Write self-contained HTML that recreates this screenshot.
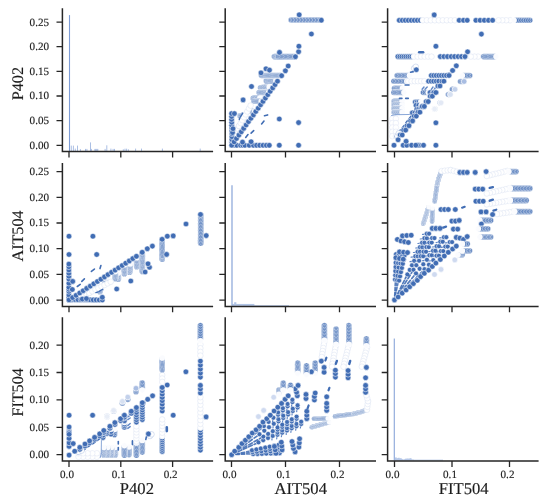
<!DOCTYPE html>
<html lang="en"><head><meta charset="utf-8"><title>pairplot</title>
<style>
html,body{margin:0;padding:0;background:#fff;}
body{width:550px;height:502px;overflow:hidden;}
svg{display:block;font-family:"Liberation Serif",serif;text-rendering:geometricPrecision;}
.t{font-size:11.1px;fill:#1c1c1c;stroke:#1c1c1c;stroke-width:0.15px;}
.l{font-size:16.6px;fill:#1c1c1c;stroke:#1c1c1c;stroke-width:0.15px;}
.s{stroke:#262626;stroke-width:1.5;fill:none;stroke-linecap:butt;stroke-linejoin:miter;}
.k{stroke:#262626;stroke-width:1.3;fill:none;}
.d line{stroke-linecap:round;}
.h{stroke:#7f9fd4;fill:none;}
</style></head><body>
<svg width="550" height="502" viewBox="0 0 550 502" style="filter:blur(0.3px)">
<rect width="550" height="502" fill="#fff"/>
<g class="h"><line x1="69.5" y1="151.1" x2="69.5" y2="15.1" stroke-width="1.1" stroke="#7d9cd5"/><line x1="71.3" y1="151.1" x2="71.3" y2="145.6" stroke-width="0.7" stroke="#86a3d8"/><line x1="73.4" y1="151.1" x2="73.4" y2="145.6" stroke-width="0.7" stroke="#86a3d8"/><line x1="75.3" y1="151.1" x2="75.3" y2="148.6" stroke-width="0.7" stroke="#86a3d8"/><line x1="77.5" y1="151.1" x2="77.5" y2="145.6" stroke-width="0.7" stroke="#86a3d8"/><line x1="80.4" y1="151.1" x2="80.4" y2="149.1" stroke-width="0.7" stroke="#86a3d8"/><line x1="85.5" y1="151.1" x2="85.5" y2="148.9" stroke-width="0.7" stroke="#86a3d8"/><line x1="86.9" y1="151.1" x2="86.9" y2="148.9" stroke-width="0.7" stroke="#86a3d8"/><line x1="90.5" y1="151.1" x2="90.5" y2="142.4" stroke-width="0.7" stroke="#86a3d8"/><line x1="91.4" y1="151.1" x2="91.4" y2="148.9" stroke-width="0.7" stroke="#86a3d8"/><line x1="94.9" y1="151.1" x2="94.9" y2="148.9" stroke-width="0.7" stroke="#86a3d8"/><line x1="95.8" y1="151.1" x2="95.8" y2="148.9" stroke-width="0.7" stroke="#86a3d8"/><line x1="96.8" y1="151.1" x2="96.8" y2="148.9" stroke-width="0.7" stroke="#86a3d8"/><line x1="97.8" y1="151.1" x2="97.8" y2="148.9" stroke-width="0.7" stroke="#86a3d8"/><line x1="105.1" y1="151.1" x2="105.1" y2="148.9" stroke-width="0.7" stroke="#86a3d8"/><line x1="106.8" y1="151.1" x2="106.8" y2="145.3" stroke-width="0.7" stroke="#86a3d8"/><line x1="110.9" y1="151.1" x2="110.9" y2="148.6" stroke-width="0.7" stroke="#86a3d8"/><line x1="113.1" y1="151.1" x2="113.1" y2="148.9" stroke-width="0.7" stroke="#86a3d8"/><line x1="114.5" y1="151.1" x2="114.5" y2="148.9" stroke-width="0.7" stroke="#86a3d8"/><line x1="123.3" y1="151.1" x2="123.3" y2="149.3" stroke-width="0.7" stroke="#86a3d8"/><line x1="125" y1="151.1" x2="125" y2="148.7" stroke-width="0.7" stroke="#86a3d8"/><line x1="126.6" y1="151.1" x2="126.6" y2="148.7" stroke-width="0.7" stroke="#86a3d8"/><line x1="128.4" y1="151.1" x2="128.4" y2="149.3" stroke-width="0.7" stroke="#86a3d8"/><line x1="135.6" y1="151.1" x2="135.6" y2="148.6" stroke-width="0.7" stroke="#86a3d8"/><line x1="141.5" y1="151.1" x2="141.5" y2="148.6" stroke-width="0.7" stroke="#86a3d8"/><line x1="162.4" y1="151.1" x2="162.4" y2="148.6" stroke-width="0.7" stroke="#86a3d8"/><line x1="200.2" y1="151.1" x2="200.2" y2="148.6" stroke-width="0.7" stroke="#86a3d8"/></g>
<g class="d" fill="#416db4" stroke="#fff" stroke-width="0.55"><circle cx="266.4" cy="80.9" r="2.8"/><circle cx="267.3" cy="80.9" r="2.8"/><circle cx="268.1" cy="80.9" r="2.8"/><circle cx="269" cy="80.9" r="2.8"/><circle cx="269.9" cy="80.9" r="2.8"/><circle cx="270.7" cy="80.9" r="2.8"/><circle cx="271.6" cy="80.9" r="2.8"/><circle cx="272.4" cy="80.9" r="2.8"/><circle cx="273.3" cy="80.9" r="2.8"/><circle cx="274.2" cy="80.9" r="2.8"/><circle cx="275" cy="80.9" r="2.8"/><circle cx="275.9" cy="80.9" r="2.8" fill="#fafbfe"/><circle cx="260.6" cy="87.7" r="2.8"/><circle cx="261.3" cy="87.7" r="2.8"/><circle cx="262.1" cy="87.6" r="2.8"/><circle cx="262.8" cy="87.6" r="2.8"/><circle cx="263.5" cy="87.5" r="2.8"/><circle cx="264.2" cy="87.5" r="2.8"/><circle cx="265" cy="87.4" r="2.8"/><circle cx="265.7" cy="87.4" r="2.8"/><circle cx="266.4" cy="87.3" r="2.8"/><circle cx="267.1" cy="87.3" r="2.8"/><circle cx="267.9" cy="87.2" r="2.8"/><circle cx="268.6" cy="87.2" r="2.8"/><circle cx="269.3" cy="87.1" r="2.8" fill="#fafbfe"/><circle cx="259.2" cy="92.5" r="2.8"/><circle cx="260" cy="92.5" r="2.8"/><circle cx="260.9" cy="92.5" r="2.8"/><circle cx="261.7" cy="92.5" r="2.8"/><circle cx="262.6" cy="92.5" r="2.8"/><circle cx="263.5" cy="92.5" r="2.8"/><circle cx="264.3" cy="92.5" r="2.8"/><circle cx="265.2" cy="92.5" r="2.8"/><circle cx="266" cy="92.5" r="2.8"/><circle cx="266.9" cy="92.5" r="2.8"/><circle cx="267.7" cy="92.5" r="2.8"/><circle cx="268.6" cy="92.5" r="2.8" fill="#fafbfe"/><circle cx="253.3" cy="98.4" r="2.8"/><circle cx="254.1" cy="98.4" r="2.8"/><circle cx="254.8" cy="98.4" r="2.8"/><circle cx="255.5" cy="98.4" r="2.8"/><circle cx="256.2" cy="98.4" r="2.8"/><circle cx="257" cy="98.4" r="2.8"/><circle cx="257.7" cy="98.4" r="2.8"/><circle cx="258.4" cy="98.4" r="2.8"/><circle cx="259.2" cy="98.4" r="2.8"/><circle cx="259.9" cy="98.4" r="2.8" fill="#fafbfe"/><circle cx="254.1" cy="101.3" r="2.8"/><circle cx="255" cy="101.3" r="2.8"/><circle cx="255.9" cy="101.3" r="2.8"/><circle cx="256.8" cy="101.3" r="2.8"/><circle cx="257.7" cy="101.3" r="2.8"/><circle cx="258.6" cy="101.3" r="2.8"/><circle cx="259.5" cy="101.3" r="2.8"/><circle cx="260.4" cy="101.3" r="2.8"/><circle cx="261.3" cy="101.3" r="2.8" fill="#fafbfe"/><circle cx="249.7" cy="110.7" r="2.8"/><circle cx="250.5" cy="110.7" r="2.8"/><circle cx="251.4" cy="110.7" r="2.8"/><circle cx="252.2" cy="110.7" r="2.8"/><circle cx="253.1" cy="110.7" r="2.8"/><circle cx="253.9" cy="110.7" r="2.8"/><circle cx="254.8" cy="110.7" r="2.8" fill="#fafbfe"/><circle cx="240.2" cy="115.9" r="2.8"/><circle cx="241" cy="115.7" r="2.8"/><circle cx="241.8" cy="115.5" r="2.8"/><circle cx="242.7" cy="115.3" r="2.8"/><circle cx="243.5" cy="115.1" r="2.8"/><circle cx="244.3" cy="114.9" r="2.8"/><circle cx="245.2" cy="114.6" r="2.8"/><circle cx="246" cy="114.4" r="2.8" fill="#fafbfe"/><circle cx="231.7" cy="142" r="2.8" fill="#fff" stroke="#c9d5ec"/><circle cx="232.9" cy="139.3" r="2.8" fill="#fff" stroke="#c9d5ec"/><circle cx="234.2" cy="136.7" r="2.8" fill="#fff" stroke="#c9d5ec"/><circle cx="235.4" cy="134" r="2.8" fill="#fff" stroke="#c9d5ec"/><circle cx="236.6" cy="131.3" r="2.8" fill="#fff" stroke="#c9d5ec"/><circle cx="237.8" cy="128.7" r="2.8" fill="#fff" stroke="#c9d5ec"/><circle cx="239" cy="126" r="2.8" fill="#fff" stroke="#c9d5ec"/><circle cx="239" cy="126" r="2.8" fill="#fff" stroke="#dbe3f2"/><circle cx="240.7" cy="123.1" r="2.8" fill="#fff" stroke="#dbe3f2"/><circle cx="242.3" cy="120.2" r="2.8" fill="#fff" stroke="#dbe3f2"/><circle cx="244" cy="117.3" r="2.8" fill="#fff" stroke="#dbe3f2"/><circle cx="245.6" cy="114.4" r="2.8" fill="#fff" stroke="#dbe3f2"/><circle cx="247.3" cy="111.5" r="2.8" fill="#fff" stroke="#dbe3f2"/><circle cx="249" cy="108.5" r="2.8" fill="#fff" stroke="#dbe3f2"/><circle cx="250.6" cy="105.6" r="2.8" fill="#fff" stroke="#dbe3f2"/><line x1="245.7" y1="137.4" x2="248" y2="134.6" stroke="#416db4" stroke-width="1.6"/><line x1="251.1" y1="133.1" x2="253.7" y2="130.6" stroke="#416db4" stroke-width="1.6"/><line x1="261.6" y1="124" x2="264" y2="121.1" stroke="#416db4" stroke-width="1.6"/><line x1="264.5" y1="115.8" x2="267.6" y2="114.9" stroke="#416db4" stroke-width="1.6"/><line x1="239.2" y1="119.7" x2="240.1" y2="117.5" stroke="#416db4" stroke-width="1.3"/><line x1="240.6" y1="116.6" x2="242.8" y2="113.2" stroke="#416db4" stroke-width="1.3"/><circle cx="232" cy="145.3" r="2.8"/><circle cx="232" cy="142.5" r="2.8"/><circle cx="231.9" cy="139.6" r="2.8"/><circle cx="231.9" cy="136.7" r="2.8"/><circle cx="231.9" cy="133.8" r="2.8"/><circle cx="231.8" cy="130.9" r="2.8"/><circle cx="231.8" cy="128" r="2.8"/><circle cx="231.7" cy="125.2" r="2.8"/><circle cx="231.7" cy="122.3" r="2.8"/><circle cx="231.6" cy="119.4" r="2.8"/><circle cx="231.6" cy="116.5" r="2.8"/><circle cx="231.6" cy="113.6" r="2.8"/><circle cx="234.4" cy="113.6" r="2.8"/><circle cx="232.5" cy="132.6" r="2.8"/><circle cx="233" cy="128.7" r="2.8"/><circle cx="232" cy="145.3" r="2.8"/><circle cx="234.2" cy="145.3" r="2.8"/><circle cx="236.8" cy="145.3" r="2.8"/><circle cx="240.6" cy="145.3" r="2.8"/><circle cx="242.8" cy="145.3" r="2.8"/><circle cx="244.9" cy="145.3" r="2.8"/><circle cx="249.2" cy="145.3" r="2.8"/><circle cx="253.5" cy="145.3" r="2.8"/><circle cx="256.6" cy="145.3" r="2.8"/><circle cx="259.7" cy="145.3" r="2.8"/><circle cx="263.1" cy="145.3" r="2.8"/><circle cx="266.4" cy="145.3" r="2.8"/><circle cx="269.3" cy="145.3" r="2.8"/><circle cx="251.1" cy="141.7" r="2.8"/><circle cx="242.5" cy="142.1" r="2.8"/><circle cx="261.5" cy="75.5" r="2.8"/><circle cx="262.4" cy="75.5" r="2.8"/><circle cx="263.3" cy="75.5" r="2.8"/><circle cx="264.2" cy="75.5" r="2.8"/><circle cx="265.1" cy="75.5" r="2.8"/><circle cx="266" cy="75.5" r="2.8"/><circle cx="266.9" cy="75.5" r="2.8"/><circle cx="267.8" cy="75.5" r="2.8"/><circle cx="268.7" cy="75.5" r="2.8"/><circle cx="269.6" cy="75.5" r="2.8"/><circle cx="270.5" cy="75.5" r="2.8"/><circle cx="271.4" cy="75.5" r="2.8"/><circle cx="272.3" cy="75.5" r="2.8"/><circle cx="273.1" cy="75.5" r="2.8"/><circle cx="274" cy="75.5" r="2.8"/><circle cx="274.9" cy="75.5" r="2.8"/><circle cx="275.8" cy="75.5" r="2.8"/><circle cx="276.7" cy="75.5" r="2.8"/><circle cx="277.6" cy="75.5" r="2.8"/><circle cx="278.5" cy="75.5" r="2.8"/><circle cx="279.4" cy="75.5" r="2.8"/><circle cx="280.3" cy="75.5" r="2.8"/><circle cx="281.2" cy="75.5" r="2.8"/><circle cx="274.4" cy="56.6" r="2.8"/><circle cx="275.3" cy="56.6" r="2.8"/><circle cx="276.2" cy="56.6" r="2.8"/><circle cx="277" cy="56.6" r="2.8"/><circle cx="277.9" cy="56.6" r="2.8"/><circle cx="278.8" cy="56.6" r="2.8"/><circle cx="279.7" cy="56.6" r="2.8"/><circle cx="280.5" cy="56.6" r="2.8"/><circle cx="281.4" cy="56.6" r="2.8"/><circle cx="282.3" cy="56.6" r="2.8"/><circle cx="283.2" cy="56.6" r="2.8" fill="#fafbfe"/><circle cx="278.3" cy="56.6" r="2.8"/><circle cx="279.6" cy="56.6" r="2.8"/><circle cx="280.8" cy="56.6" r="2.8"/><circle cx="282.1" cy="56.6" r="2.8"/><circle cx="283.4" cy="56.6" r="2.8"/><circle cx="284.7" cy="56.6" r="2.8"/><circle cx="286" cy="56.6" r="2.8"/><circle cx="287.3" cy="56.6" r="2.8"/><circle cx="288.6" cy="56.6" r="2.8"/><circle cx="289.9" cy="56.6" r="2.8"/><circle cx="291.1" cy="56.6" r="2.8"/><circle cx="292.4" cy="56.6" r="2.8"/><circle cx="293.7" cy="56.6" r="2.8"/><circle cx="295" cy="56.6" r="2.8"/><circle cx="291.2" cy="20" r="2.8"/><circle cx="292.1" cy="20" r="2.8"/><circle cx="293.1" cy="20" r="2.8"/><circle cx="294.1" cy="20" r="2.8"/><circle cx="295" cy="20" r="2.8"/><circle cx="296" cy="20" r="2.8"/><circle cx="297" cy="20" r="2.8" fill="#fafbfe"/><circle cx="291.4" cy="20" r="2.8"/><circle cx="292.9" cy="20" r="2.8"/><circle cx="294.3" cy="20" r="2.8"/><circle cx="295.8" cy="20" r="2.8"/><circle cx="297.3" cy="20" r="2.8"/><circle cx="298.8" cy="20" r="2.8"/><circle cx="300.3" cy="20" r="2.8"/><circle cx="301.8" cy="20" r="2.8"/><circle cx="303.3" cy="20" r="2.8"/><circle cx="304.8" cy="20" r="2.8"/><circle cx="306.3" cy="20" r="2.8"/><circle cx="307.8" cy="20" r="2.8"/><circle cx="309.3" cy="20" r="2.8"/><circle cx="310.7" cy="20" r="2.8"/><circle cx="312.2" cy="20" r="2.8"/><circle cx="313.7" cy="20" r="2.8"/><circle cx="315.2" cy="20" r="2.8"/><circle cx="316.7" cy="20" r="2.8"/><circle cx="318.2" cy="20" r="2.8"/><circle cx="319.7" cy="20" r="2.8"/><circle cx="321.2" cy="20" r="2.8"/><circle cx="231.7" cy="145.2" r="2.8"/><circle cx="234.1" cy="141.9" r="2.8"/><circle cx="236.5" cy="138.5" r="2.8"/><circle cx="238.9" cy="135.1" r="2.8"/><circle cx="241.3" cy="131.8" r="2.8"/><circle cx="243.7" cy="128.4" r="2.8"/><circle cx="246.1" cy="125" r="2.8"/><circle cx="248.5" cy="121.6" r="2.8"/><circle cx="250.9" cy="118.3" r="2.8"/><circle cx="253.4" cy="114.9" r="2.8"/><circle cx="255.8" cy="111.5" r="2.8"/><circle cx="258.2" cy="108.2" r="2.8"/><circle cx="260.6" cy="104.8" r="2.8"/><circle cx="263" cy="101.4" r="2.8"/><circle cx="265.4" cy="98.1" r="2.8"/><circle cx="267.8" cy="94.7" r="2.8"/><circle cx="270.2" cy="91.3" r="2.8"/><circle cx="272.7" cy="87.9" r="2.8"/><circle cx="275.1" cy="84.6" r="2.8"/><circle cx="277.5" cy="81.2" r="2.8"/><circle cx="298.6" cy="145.2" r="2.8"/><circle cx="298.6" cy="122.6" r="2.8"/><circle cx="279.3" cy="145.2" r="2.8"/><circle cx="279.3" cy="119" r="2.8"/><circle cx="251.5" cy="86.5" r="2.8"/><circle cx="243.1" cy="99.9" r="2.8"/><circle cx="281.6" cy="75.7" r="2.8"/><circle cx="285.4" cy="70.8" r="2.8"/><circle cx="288.2" cy="66" r="2.8"/><circle cx="295.4" cy="56.7" r="2.8"/><circle cx="298.6" cy="51.7" r="2.8"/><circle cx="298.9" cy="46.2" r="2.8"/><circle cx="299.2" cy="14.8" r="2.8"/><circle cx="279.5" cy="52.4" r="2.8"/><circle cx="261" cy="72.9" r="2.8"/><circle cx="266" cy="68.8" r="2.8"/><circle cx="269.5" cy="70.1" r="2.8"/><circle cx="321.3" cy="20.2" r="2.8"/><circle cx="311.4" cy="34" r="2.8"/></g>
<g class="d" fill="#416db4" stroke="#fff" stroke-width="0.55"><circle cx="465" cy="75.8" r="2.8"/><circle cx="466" cy="75.8" r="2.8"/><circle cx="467" cy="75.8" r="2.8"/><circle cx="467.9" cy="75.8" r="2.8"/><circle cx="468.9" cy="75.8" r="2.8"/><circle cx="469.8" cy="75.8" r="2.8" fill="#fafbfe"/><circle cx="469.8" cy="75.8" r="2.8" fill="#9db4de"/><circle cx="460.5" cy="81.5" r="2.8"/><circle cx="461.7" cy="81.5" r="2.8"/><circle cx="462.9" cy="81.5" r="2.8"/><circle cx="464.1" cy="81.5" r="2.8" fill="#fafbfe"/><circle cx="464.1" cy="81.5" r="2.8" fill="#a9bde2"/><circle cx="452.4" cy="89.3" r="2.8"/><circle cx="453.7" cy="89.3" r="2.8"/><circle cx="455" cy="89.3" r="2.8" fill="#fafbfe"/><circle cx="455" cy="89.3" r="2.8" fill="#c3d1eb"/><circle cx="448.4" cy="94.5" r="2.8"/><circle cx="449.4" cy="94.5" r="2.8"/><circle cx="450.4" cy="94.5" r="2.8" fill="#fafbfe"/><circle cx="450.4" cy="94.5" r="2.8" fill="#d6e0f1"/><circle cx="440.4" cy="102.8" r="2.8"/><circle cx="441" cy="102.8" r="2.8" fill="#fafbfe"/><circle cx="441" cy="102.8" r="2.8" fill="#e3e9f5"/><circle cx="434.7" cy="109" r="2.8"/><circle cx="434.6" cy="109" r="2.8" fill="#fafbfe"/><circle cx="434.6" cy="109" r="2.8" fill="#e9eef7"/><circle cx="394.2" cy="101.3" r="2.8"/><circle cx="394.9" cy="101.3" r="2.8"/><circle cx="395.6" cy="101.3" r="2.8"/><circle cx="396.2" cy="101.3" r="2.8"/><circle cx="396.9" cy="101.3" r="2.8"/><circle cx="397.6" cy="101.3" r="2.8"/><circle cx="398.2" cy="101.3" r="2.8"/><circle cx="398.9" cy="101.3" r="2.8"/><circle cx="399.6" cy="101.3" r="2.8"/><circle cx="400.2" cy="101.3" r="2.8"/><circle cx="400.9" cy="101.3" r="2.8"/><circle cx="401.6" cy="101.3" r="2.8"/><circle cx="402.2" cy="101.3" r="2.8" fill="#fafbfe"/><circle cx="394.2" cy="104.9" r="2.8"/><circle cx="394.9" cy="104.9" r="2.8"/><circle cx="395.6" cy="104.9" r="2.8"/><circle cx="396.2" cy="104.9" r="2.8"/><circle cx="396.9" cy="104.9" r="2.8"/><circle cx="397.6" cy="104.9" r="2.8"/><circle cx="398.2" cy="104.9" r="2.8"/><circle cx="398.9" cy="104.9" r="2.8"/><circle cx="399.6" cy="104.9" r="2.8"/><circle cx="400.2" cy="104.9" r="2.8"/><circle cx="400.9" cy="104.9" r="2.8"/><circle cx="401.6" cy="104.9" r="2.8"/><circle cx="402.2" cy="104.9" r="2.8" fill="#fafbfe"/><circle cx="394.2" cy="108.5" r="2.8"/><circle cx="394.9" cy="108.5" r="2.8"/><circle cx="395.6" cy="108.5" r="2.8"/><circle cx="396.2" cy="108.5" r="2.8"/><circle cx="396.9" cy="108.5" r="2.8"/><circle cx="397.6" cy="108.5" r="2.8"/><circle cx="398.2" cy="108.5" r="2.8"/><circle cx="398.9" cy="108.5" r="2.8"/><circle cx="399.6" cy="108.5" r="2.8"/><circle cx="400.2" cy="108.5" r="2.8"/><circle cx="400.9" cy="108.5" r="2.8"/><circle cx="401.6" cy="108.5" r="2.8"/><circle cx="402.2" cy="108.5" r="2.8" fill="#fafbfe"/><circle cx="394.2" cy="112.2" r="2.8"/><circle cx="394.9" cy="112.2" r="2.8"/><circle cx="395.6" cy="112.2" r="2.8"/><circle cx="396.2" cy="112.2" r="2.8"/><circle cx="396.9" cy="112.2" r="2.8"/><circle cx="397.6" cy="112.2" r="2.8"/><circle cx="398.2" cy="112.2" r="2.8"/><circle cx="398.9" cy="112.2" r="2.8"/><circle cx="399.6" cy="112.2" r="2.8"/><circle cx="400.2" cy="112.2" r="2.8"/><circle cx="400.9" cy="112.2" r="2.8"/><circle cx="401.6" cy="112.2" r="2.8"/><circle cx="402.2" cy="112.2" r="2.8" fill="#fafbfe"/><circle cx="392.3" cy="118.7" r="2.8" fill="#fff" stroke="#dfe6f4"/><circle cx="395.9" cy="118.7" r="2.8" fill="#fff" stroke="#dfe6f4"/><circle cx="392.3" cy="123.1" r="2.8" fill="#fff" stroke="#dfe6f4"/><circle cx="395.9" cy="123.1" r="2.8" fill="#fff" stroke="#dfe6f4"/><circle cx="392.3" cy="127.5" r="2.8" fill="#fff" stroke="#dfe6f4"/><circle cx="395.9" cy="127.5" r="2.8" fill="#fff" stroke="#dfe6f4"/><circle cx="392.3" cy="131.8" r="2.8" fill="#fff" stroke="#dfe6f4"/><circle cx="395.9" cy="131.8" r="2.8" fill="#fff" stroke="#dfe6f4"/><circle cx="392.3" cy="136.2" r="2.8" fill="#fff" stroke="#dfe6f4"/><circle cx="395.9" cy="136.2" r="2.8" fill="#fff" stroke="#dfe6f4"/><circle cx="393.8" cy="81.2" r="2.8"/><circle cx="395.3" cy="81.2" r="2.8"/><circle cx="396.7" cy="81.2" r="2.8"/><circle cx="398.2" cy="81.2" r="2.8"/><circle cx="399.6" cy="81.2" r="2.8"/><circle cx="401.1" cy="81.2" r="2.8"/><circle cx="402.5" cy="81.2" r="2.8"/><circle cx="404" cy="81.2" r="2.8"/><circle cx="405.4" cy="81.2" r="2.8"/><circle cx="406.9" cy="81.2" r="2.8" fill="#fafbfe"/><circle cx="408.3" cy="81.2" r="2.8" fill="#fff" stroke="#dde4f2"/><circle cx="411.5" cy="81.2" r="2.8" fill="#fff" stroke="#dde4f2"/><circle cx="414.7" cy="81.2" r="2.8" fill="#fff" stroke="#dde4f2"/><circle cx="417.9" cy="81.2" r="2.8" fill="#fff" stroke="#dde4f2"/><circle cx="421.1" cy="81.2" r="2.8" fill="#fff" stroke="#dde4f2"/><circle cx="424.3" cy="81.2" r="2.8" fill="#fff" stroke="#dde4f2"/><circle cx="394.5" cy="88.2" r="2.8"/><circle cx="395.7" cy="88.2" r="2.8"/><circle cx="396.8" cy="88.2" r="2.8"/><circle cx="398" cy="88.2" r="2.8"/><circle cx="399.1" cy="88.2" r="2.8"/><circle cx="400.3" cy="88.2" r="2.8"/><circle cx="401.4" cy="88.2" r="2.8"/><circle cx="402.5" cy="88.2" r="2.8" fill="#fafbfe"/><circle cx="393.8" cy="92.5" r="2.8"/><circle cx="395.1" cy="92.5" r="2.8"/><circle cx="396.4" cy="92.5" r="2.8"/><circle cx="397.6" cy="92.5" r="2.8"/><circle cx="398.9" cy="92.5" r="2.8"/><circle cx="400.2" cy="92.5" r="2.8"/><circle cx="401.4" cy="92.5" r="2.8"/><circle cx="402.7" cy="92.5" r="2.8"/><circle cx="404" cy="92.5" r="2.8" fill="#fafbfe"/><circle cx="428.6" cy="81.2" r="2.8"/><circle cx="431.2" cy="81.2" r="2.8"/><circle cx="433.7" cy="81.2" r="2.8"/><circle cx="436.3" cy="81.2" r="2.8"/><circle cx="438.8" cy="81.2" r="2.8"/><circle cx="423.3" cy="92.5" r="2.8"/><circle cx="425" cy="92.5" r="2.8"/><circle cx="426.7" cy="92.5" r="2.8"/><circle cx="428.4" cy="92.5" r="2.8" fill="#fafbfe"/><circle cx="430.1" cy="92.5" r="2.8"/><circle cx="433" cy="92.5" r="2.8"/><circle cx="435.9" cy="92.5" r="2.8"/><line x1="422.1" y1="89.3" x2="424" y2="87" stroke="#6389c7" stroke-width="1.4"/><line x1="425" y1="89.3" x2="427.2" y2="87" stroke="#6389c7" stroke-width="1.4"/><line x1="431.3" y1="89.3" x2="433" y2="87" stroke="#6389c7" stroke-width="1.4"/><line x1="434.2" y1="89.3" x2="435.9" y2="87" stroke="#6389c7" stroke-width="1.4"/><line x1="405.1" y1="85" x2="409" y2="85" stroke="#416db4" stroke-width="1.6"/><line x1="399.5" y1="98.4" x2="401.9" y2="98.4" stroke="#416db4" stroke-width="1.6"/><line x1="405.7" y1="98.4" x2="408.3" y2="98.4" stroke="#416db4" stroke-width="1.6"/><line x1="391.5" y1="115.5" x2="395.9" y2="114.7" stroke="#7d9dd2" stroke-width="0.9"/><line x1="395.9" y1="114.7" x2="414.1" y2="114.4" stroke="#7d9dd2" stroke-width="0.9"/><line x1="395" y1="136.6" x2="396.8" y2="134.3" stroke="#416db4" stroke-width="1.6"/><line x1="398.7" y1="132.3" x2="400.4" y2="129.9" stroke="#416db4" stroke-width="1.6"/><line x1="402.3" y1="127.9" x2="404.1" y2="125.6" stroke="#416db4" stroke-width="1.6"/><line x1="405.9" y1="122.8" x2="407.7" y2="120.5" stroke="#416db4" stroke-width="1.6"/><line x1="409.1" y1="118.7" x2="410.9" y2="116.4" stroke="#416db4" stroke-width="1.6"/><line x1="411.8" y1="114.8" x2="413.5" y2="112.5" stroke="#416db4" stroke-width="1.6"/><circle cx="415.3" cy="102" r="2.8"/><circle cx="417.2" cy="102" r="2.8"/><circle cx="419" cy="102" r="2.8"/><circle cx="420.9" cy="102" r="2.8" fill="#fafbfe"/><circle cx="416.1" cy="105.3" r="2.8"/><circle cx="418.8" cy="105.3" r="2.8"/><circle cx="421.4" cy="105.3" r="2.8" fill="#fafbfe"/><circle cx="416.8" cy="109.3" r="2.8"/><circle cx="418.7" cy="109.3" r="2.8"/><circle cx="420.7" cy="109.3" r="2.8"/><circle cx="422.6" cy="109.3" r="2.8" fill="#fafbfe"/><circle cx="412.4" cy="112.9" r="2.8"/><circle cx="415" cy="112.9" r="2.8"/><circle cx="417.5" cy="112.9" r="2.8" fill="#fafbfe"/><line x1="411.3" y1="116.4" x2="413.1" y2="115.5" stroke="#416db4" stroke-width="1.4"/><line x1="407.7" y1="121.2" x2="409.4" y2="120.3" stroke="#416db4" stroke-width="1.4"/><line x1="404.1" y1="126" x2="405.8" y2="125.1" stroke="#416db4" stroke-width="1.4"/><line x1="400.7" y1="130.4" x2="402.5" y2="129.5" stroke="#416db4" stroke-width="1.4"/><line x1="397.2" y1="135.3" x2="399" y2="134.4" stroke="#416db4" stroke-width="1.4"/><circle cx="403.2" cy="145.2" r="2.8"/><circle cx="406.8" cy="145.2" r="2.8"/><circle cx="411.6" cy="145.2" r="2.8"/><circle cx="419.2" cy="145.2" r="2.8"/><circle cx="417.5" cy="145.2" r="2.8"/><circle cx="415.8" cy="145.2" r="2.8"/><circle cx="423.5" cy="145.2" r="2.8"/><circle cx="435.9" cy="145.2" r="2.8"/><circle cx="406.1" cy="141.3" r="2.8"/><circle cx="397.4" cy="136.2" r="2.8" fill="#fff" stroke="#b9c8e6"/><circle cx="398.8" cy="133.3" r="2.8" fill="#fff" stroke="#b9c8e6"/><circle cx="400.1" cy="135" r="2.8"/><circle cx="403.6" cy="130.1" r="2.8"/><circle cx="407" cy="125.7" r="2.8"/><circle cx="410.6" cy="120.9" r="2.8"/><circle cx="414.2" cy="116.1" r="2.8"/><circle cx="417.9" cy="112.2" r="2.8"/><circle cx="422.2" cy="106.4" r="2.8"/><circle cx="426.2" cy="101.6" r="2.8"/><circle cx="430.2" cy="96.2" r="2.8"/><circle cx="433.9" cy="92.5" r="2.8"/><circle cx="437.9" cy="86" r="2.8"/><circle cx="441.9" cy="81.2" r="2.8"/><circle cx="394" cy="145.2" r="2.8"/><circle cx="398.1" cy="139.8" r="2.8"/><circle cx="402.2" cy="135" r="2.8"/><circle cx="405.7" cy="130.1" r="2.8"/><circle cx="409" cy="125.7" r="2.8"/><circle cx="412.6" cy="120.9" r="2.8"/><circle cx="416.3" cy="116.1" r="2.8"/><circle cx="419.9" cy="112.2" r="2.8"/><circle cx="424.3" cy="106.4" r="2.8"/><circle cx="428.2" cy="101.6" r="2.8"/><circle cx="432.3" cy="96.2" r="2.8"/><circle cx="435.9" cy="92.5" r="2.8"/><circle cx="440" cy="86" r="2.8"/><circle cx="443.9" cy="81.2" r="2.8"/><circle cx="435.9" cy="122.8" r="2.8"/><circle cx="449" cy="74.8" r="2.8"/><circle cx="452.6" cy="70.5" r="2.8"/><circle cx="456.3" cy="65.8" r="2.8"/><circle cx="397.2" cy="75.5" r="2.8"/><circle cx="398.5" cy="75.5" r="2.8"/><circle cx="399.9" cy="75.5" r="2.8"/><circle cx="401.3" cy="75.5" r="2.8"/><circle cx="402.6" cy="75.5" r="2.8"/><circle cx="404" cy="75.5" r="2.8"/><circle cx="405.4" cy="75.5" r="2.8"/><circle cx="406.8" cy="75.5" r="2.8"/><circle cx="408.1" cy="75.5" r="2.8"/><circle cx="409.5" cy="75.5" r="2.8" fill="#fafbfe"/><circle cx="431.3" cy="75.5" r="2.8"/><circle cx="433.8" cy="75.5" r="2.8"/><circle cx="436.3" cy="75.5" r="2.8"/><circle cx="438.9" cy="75.5" r="2.8"/><circle cx="441.4" cy="75.5" r="2.8"/><circle cx="443.9" cy="75.5" r="2.8"/><circle cx="446.5" cy="75.5" r="2.8"/><circle cx="449" cy="75.5" r="2.8"/><circle cx="414.1" cy="68.3" r="2.8" fill="#fff" stroke="#b9c8e6"/><circle cx="415.8" cy="66.8" r="2.8" fill="#fff" stroke="#b9c8e6"/><line x1="410.5" y1="72.2" x2="413.4" y2="71.6" stroke="#416db4" stroke-width="1.6"/><circle cx="416.3" cy="69.7" r="2.8"/><circle cx="397.9" cy="56.6" r="2.8"/><circle cx="399.9" cy="56.6" r="2.8"/><circle cx="401.9" cy="56.6" r="2.8"/><circle cx="403.9" cy="56.6" r="2.8"/><circle cx="405.9" cy="56.6" r="2.8"/><circle cx="407.9" cy="56.6" r="2.8"/><circle cx="409.9" cy="56.6" r="2.8"/><circle cx="411.9" cy="56.6" r="2.8"/><circle cx="413.9" cy="56.6" r="2.8" fill="#fafbfe"/><circle cx="414.1" cy="56.6" r="2.8" fill="#fff" stroke="#dde4f2"/><circle cx="417.6" cy="56.6" r="2.8" fill="#fff" stroke="#dde4f2"/><circle cx="421.1" cy="56.6" r="2.8" fill="#fff" stroke="#dde4f2"/><circle cx="424.6" cy="56.6" r="2.8" fill="#fff" stroke="#dde4f2"/><circle cx="428.1" cy="56.6" r="2.8" fill="#fff" stroke="#dde4f2"/><circle cx="431.5" cy="56.6" r="2.8" fill="#fff" stroke="#dde4f2"/><circle cx="440.3" cy="56.6" r="2.8"/><circle cx="443.9" cy="56.6" r="2.8"/><circle cx="447.5" cy="56.6" r="2.8"/><circle cx="451.2" cy="56.6" r="2.8"/><circle cx="454.6" cy="56.6" r="2.8"/><circle cx="458.1" cy="56.6" r="2.8"/><circle cx="461.5" cy="56.6" r="2.8"/><circle cx="465" cy="56.6" r="2.8"/><line x1="419.2" y1="52.3" x2="423.1" y2="52.3" stroke="#416db4" stroke-width="2.6"/><circle cx="399.3" cy="20.3" r="2.8"/><circle cx="402.3" cy="20.3" r="2.8"/><circle cx="405.3" cy="20.3" r="2.8"/><circle cx="408.3" cy="20.3" r="2.8"/><circle cx="411.3" cy="20.3" r="2.8"/><circle cx="414.3" cy="20.3" r="2.8"/><circle cx="417.3" cy="20.3" r="2.8"/><circle cx="420.3" cy="20.3" r="2.8"/><circle cx="423.3" cy="20.3" r="2.8" fill="#fafbfe"/><circle cx="422.8" cy="20.3" r="2.8" fill="#fff" stroke="#dde4f2"/><circle cx="426.8" cy="20.3" r="2.8" fill="#fff" stroke="#dde4f2"/><circle cx="430.8" cy="20.3" r="2.8" fill="#fff" stroke="#dde4f2"/><circle cx="434.8" cy="20.3" r="2.8" fill="#fff" stroke="#dde4f2"/><circle cx="438.8" cy="20.3" r="2.8" fill="#fff" stroke="#dde4f2"/><circle cx="442.8" cy="20.3" r="2.8" fill="#fff" stroke="#dde4f2"/><circle cx="446.8" cy="20.3" r="2.8" fill="#fff" stroke="#dde4f2"/><circle cx="450.8" cy="20.3" r="2.8" fill="#fff" stroke="#dde4f2"/><circle cx="454.8" cy="20.3" r="2.8" fill="#fff" stroke="#dde4f2"/><circle cx="459.2" cy="20.3" r="2.8"/><circle cx="463.5" cy="20.3" r="2.8"/><circle cx="434.2" cy="14.9" r="2.8"/><circle cx="435.9" cy="46.2" r="2.8"/><circle cx="467.2" cy="20.3" r="2.8"/><circle cx="475.9" cy="20.3" r="2.8"/><circle cx="480.1" cy="20.3" r="2.8"/><circle cx="484.3" cy="20.3" r="2.8"/><circle cx="488.5" cy="20.3" r="2.8"/><circle cx="492.6" cy="20.3" r="2.8"/><circle cx="510.1" cy="20.3" r="2.8" fill="#fff" stroke="#dde4f2"/><circle cx="506.2" cy="20.3" r="2.8" fill="#fff" stroke="#dde4f2"/><circle cx="502.3" cy="20.3" r="2.8" fill="#fff" stroke="#dde4f2"/><circle cx="498.5" cy="20.3" r="2.8" fill="#fff" stroke="#dde4f2"/><circle cx="529.9" cy="20.3" r="2.8"/><circle cx="528.2" cy="20.3" r="2.8"/><circle cx="526.4" cy="20.3" r="2.8"/><circle cx="524.6" cy="20.3" r="2.8"/><circle cx="522.8" cy="20.3" r="2.8"/><circle cx="521" cy="20.3" r="2.8"/><circle cx="519.3" cy="20.3" r="2.8"/><circle cx="517.5" cy="20.3" r="2.8"/><circle cx="515.7" cy="20.3" r="2.8"/><circle cx="513.9" cy="20.3" r="2.8" fill="#fafbfe"/><circle cx="481.4" cy="34.1" r="2.8"/><circle cx="467.6" cy="51.8" r="2.8"/><circle cx="465" cy="56.6" r="2.8"/><circle cx="478.1" cy="56.6" r="2.8" fill="#fff" stroke="#dde4f2"/><circle cx="474.5" cy="56.6" r="2.8" fill="#fff" stroke="#dde4f2"/><circle cx="470.8" cy="56.6" r="2.8" fill="#fff" stroke="#dde4f2"/><circle cx="483.7" cy="56.6" r="2.8"/><circle cx="484.9" cy="56.6" r="2.8"/><circle cx="486.2" cy="56.6" r="2.8"/><circle cx="487.4" cy="56.6" r="2.8"/><circle cx="488.6" cy="56.6" r="2.8"/><circle cx="489.9" cy="56.6" r="2.8"/><circle cx="491.1" cy="56.6" r="2.8"/><circle cx="492.4" cy="56.6" r="2.8"/><circle cx="493.6" cy="56.6" r="2.8"/><circle cx="494.8" cy="56.6" r="2.8"/><circle cx="496.1" cy="56.6" r="2.8" fill="#fafbfe"/><circle cx="469.6" cy="75.5" r="2.8"/><circle cx="468.1" cy="75.5" r="2.8"/><circle cx="466.7" cy="75.5" r="2.8"/><circle cx="465.2" cy="75.5" r="2.8"/><circle cx="463.8" cy="75.5" r="2.8"/><circle cx="462.3" cy="75.5" r="2.8" fill="#fafbfe"/></g>
<g class="d" fill="#416db4" stroke="#fff" stroke-width="0.55"><circle cx="136.7" cy="266.8" r="2.8"/><circle cx="136.7" cy="266" r="2.8"/><circle cx="136.7" cy="265.2" r="2.8"/><circle cx="136.7" cy="264.3" r="2.8"/><circle cx="136.7" cy="263.5" r="2.8"/><circle cx="136.7" cy="262.7" r="2.8"/><circle cx="136.7" cy="261.9" r="2.8"/><circle cx="136.7" cy="261.1" r="2.8"/><circle cx="136.7" cy="260.3" r="2.8"/><circle cx="136.7" cy="259.4" r="2.8"/><circle cx="136.7" cy="258.6" r="2.8"/><circle cx="136.7" cy="257.8" r="2.8" fill="#fafbfe"/><circle cx="129.5" cy="272.3" r="2.8"/><circle cx="129.6" cy="271.7" r="2.8"/><circle cx="129.6" cy="271" r="2.8"/><circle cx="129.7" cy="270.3" r="2.8"/><circle cx="129.7" cy="269.6" r="2.8"/><circle cx="129.8" cy="268.9" r="2.8"/><circle cx="129.8" cy="268.2" r="2.8"/><circle cx="129.9" cy="267.5" r="2.8"/><circle cx="129.9" cy="266.8" r="2.8"/><circle cx="130" cy="266.1" r="2.8"/><circle cx="130" cy="265.4" r="2.8"/><circle cx="130.1" cy="264.7" r="2.8"/><circle cx="130.1" cy="264" r="2.8" fill="#fafbfe"/><circle cx="124.4" cy="273.7" r="2.8"/><circle cx="124.4" cy="272.9" r="2.8"/><circle cx="124.4" cy="272.1" r="2.8"/><circle cx="124.4" cy="271.3" r="2.8"/><circle cx="124.4" cy="270.5" r="2.8"/><circle cx="124.4" cy="269.6" r="2.8"/><circle cx="124.4" cy="268.8" r="2.8"/><circle cx="124.4" cy="268" r="2.8"/><circle cx="124.4" cy="267.2" r="2.8"/><circle cx="124.4" cy="266.4" r="2.8"/><circle cx="124.4" cy="265.5" r="2.8"/><circle cx="124.4" cy="264.7" r="2.8" fill="#fafbfe"/><circle cx="118.3" cy="279.3" r="2.8"/><circle cx="118.3" cy="278.6" r="2.8"/><circle cx="118.3" cy="277.9" r="2.8"/><circle cx="118.3" cy="277.2" r="2.8"/><circle cx="118.3" cy="276.5" r="2.8"/><circle cx="118.3" cy="275.8" r="2.8"/><circle cx="118.3" cy="275.1" r="2.8"/><circle cx="118.3" cy="274.4" r="2.8"/><circle cx="118.3" cy="273.7" r="2.8"/><circle cx="118.3" cy="273" r="2.8" fill="#fafbfe"/><circle cx="115.3" cy="278.6" r="2.8"/><circle cx="115.3" cy="277.7" r="2.8"/><circle cx="115.3" cy="276.8" r="2.8"/><circle cx="115.3" cy="276" r="2.8"/><circle cx="115.3" cy="275.1" r="2.8"/><circle cx="115.3" cy="274.2" r="2.8"/><circle cx="115.3" cy="273.4" r="2.8"/><circle cx="115.3" cy="272.5" r="2.8"/><circle cx="115.3" cy="271.6" r="2.8" fill="#fafbfe"/><circle cx="105.3" cy="282.7" r="2.8"/><circle cx="105.3" cy="281.9" r="2.8"/><circle cx="105.3" cy="281.1" r="2.8"/><circle cx="105.3" cy="280.3" r="2.8"/><circle cx="105.3" cy="279.5" r="2.8"/><circle cx="105.3" cy="278.7" r="2.8"/><circle cx="105.3" cy="277.9" r="2.8" fill="#fafbfe"/><circle cx="99.9" cy="291.8" r="2.8"/><circle cx="100.1" cy="291" r="2.8"/><circle cx="100.3" cy="290.2" r="2.8"/><circle cx="100.5" cy="289.4" r="2.8"/><circle cx="100.8" cy="288.6" r="2.8"/><circle cx="101" cy="287.8" r="2.8"/><circle cx="101.2" cy="287.1" r="2.8"/><circle cx="101.4" cy="286.3" r="2.8" fill="#fafbfe"/><circle cx="72.4" cy="299.8" r="2.8" fill="#fff" stroke="#c9d5ec"/><circle cx="75.2" cy="298.7" r="2.8" fill="#fff" stroke="#c9d5ec"/><circle cx="78" cy="297.5" r="2.8" fill="#fff" stroke="#c9d5ec"/><circle cx="80.8" cy="296.4" r="2.8" fill="#fff" stroke="#c9d5ec"/><circle cx="83.6" cy="295.2" r="2.8" fill="#fff" stroke="#c9d5ec"/><circle cx="86.4" cy="294.1" r="2.8" fill="#fff" stroke="#c9d5ec"/><circle cx="89.3" cy="292.9" r="2.8" fill="#fff" stroke="#c9d5ec"/><circle cx="89.3" cy="292.9" r="2.8" fill="#fff" stroke="#dbe3f2"/><circle cx="92.3" cy="291.3" r="2.8" fill="#fff" stroke="#dbe3f2"/><circle cx="95.4" cy="289.7" r="2.8" fill="#fff" stroke="#dbe3f2"/><circle cx="98.4" cy="288.2" r="2.8" fill="#fff" stroke="#dbe3f2"/><circle cx="101.5" cy="286.6" r="2.8" fill="#fff" stroke="#dbe3f2"/><circle cx="104.5" cy="285" r="2.8" fill="#fff" stroke="#dbe3f2"/><circle cx="107.6" cy="283.4" r="2.8" fill="#fff" stroke="#dbe3f2"/><circle cx="110.7" cy="281.8" r="2.8" fill="#fff" stroke="#dbe3f2"/><line x1="77.3" y1="286.5" x2="80.2" y2="284.4" stroke="#416db4" stroke-width="1.6"/><line x1="81.8" y1="281.4" x2="84.4" y2="278.9" stroke="#416db4" stroke-width="1.6"/><line x1="91.4" y1="271.4" x2="94.4" y2="269.1" stroke="#416db4" stroke-width="1.6"/><line x1="100" y1="268.6" x2="100.9" y2="265.6" stroke="#416db4" stroke-width="1.6"/><line x1="95.9" y1="292.7" x2="98.2" y2="291.8" stroke="#416db4" stroke-width="1.3"/><line x1="99.1" y1="291.4" x2="102.7" y2="289.3" stroke="#416db4" stroke-width="1.3"/><circle cx="68.9" cy="299.5" r="2.8"/><circle cx="71.9" cy="299.6" r="2.8"/><circle cx="75" cy="299.6" r="2.8"/><circle cx="78" cy="299.7" r="2.8"/><circle cx="81" cy="299.7" r="2.8"/><circle cx="84.1" cy="299.8" r="2.8"/><circle cx="87.1" cy="299.8" r="2.8"/><circle cx="90.1" cy="299.8" r="2.8"/><circle cx="93.2" cy="299.9" r="2.8"/><circle cx="96.2" cy="299.9" r="2.8"/><circle cx="99.2" cy="300" r="2.8"/><circle cx="102.3" cy="300" r="2.8"/><circle cx="102.3" cy="297.3" r="2.8"/><circle cx="82.3" cy="299.1" r="2.8"/><circle cx="86.4" cy="298.6" r="2.8"/><circle cx="68.9" cy="299.5" r="2.8"/><circle cx="68.9" cy="297.5" r="2.8"/><circle cx="68.9" cy="295" r="2.8"/><circle cx="68.9" cy="291.4" r="2.8"/><circle cx="68.9" cy="289.3" r="2.8"/><circle cx="68.9" cy="287.3" r="2.8"/><circle cx="68.9" cy="283.2" r="2.8"/><circle cx="68.9" cy="279.1" r="2.8"/><circle cx="68.9" cy="276.2" r="2.8"/><circle cx="68.9" cy="273.2" r="2.8"/><circle cx="68.9" cy="270" r="2.8"/><circle cx="68.9" cy="266.8" r="2.8"/><circle cx="68.9" cy="264.1" r="2.8"/><circle cx="72.7" cy="281.4" r="2.8"/><circle cx="72.3" cy="289.5" r="2.8"/><circle cx="142.3" cy="271.4" r="2.8"/><circle cx="142.3" cy="270.6" r="2.8"/><circle cx="142.3" cy="269.7" r="2.8"/><circle cx="142.3" cy="268.9" r="2.8"/><circle cx="142.3" cy="268" r="2.8"/><circle cx="142.3" cy="267.2" r="2.8"/><circle cx="142.3" cy="266.3" r="2.8"/><circle cx="142.3" cy="265.5" r="2.8"/><circle cx="142.3" cy="264.6" r="2.8"/><circle cx="142.3" cy="263.8" r="2.8"/><circle cx="142.3" cy="263" r="2.8"/><circle cx="142.3" cy="262.1" r="2.8"/><circle cx="142.3" cy="261.3" r="2.8"/><circle cx="142.3" cy="260.4" r="2.8"/><circle cx="142.3" cy="259.6" r="2.8"/><circle cx="142.3" cy="258.7" r="2.8"/><circle cx="142.3" cy="257.9" r="2.8"/><circle cx="142.3" cy="257" r="2.8"/><circle cx="142.3" cy="256.2" r="2.8"/><circle cx="142.3" cy="255.3" r="2.8"/><circle cx="142.3" cy="254.5" r="2.8"/><circle cx="142.3" cy="253.6" r="2.8"/><circle cx="142.3" cy="252.8" r="2.8"/><circle cx="162.2" cy="259.2" r="2.8"/><circle cx="162.2" cy="258.4" r="2.8"/><circle cx="162.2" cy="257.5" r="2.8"/><circle cx="162.2" cy="256.7" r="2.8"/><circle cx="162.2" cy="255.9" r="2.8"/><circle cx="162.2" cy="255" r="2.8"/><circle cx="162.2" cy="254.2" r="2.8"/><circle cx="162.2" cy="253.4" r="2.8"/><circle cx="162.2" cy="252.5" r="2.8"/><circle cx="162.2" cy="251.7" r="2.8"/><circle cx="162.2" cy="250.9" r="2.8" fill="#fafbfe"/><circle cx="162.2" cy="255.5" r="2.8"/><circle cx="162.2" cy="254.3" r="2.8"/><circle cx="162.2" cy="253.1" r="2.8"/><circle cx="162.2" cy="251.8" r="2.8"/><circle cx="162.2" cy="250.6" r="2.8"/><circle cx="162.2" cy="249.4" r="2.8"/><circle cx="162.2" cy="248.2" r="2.8"/><circle cx="162.2" cy="246.9" r="2.8"/><circle cx="162.2" cy="245.7" r="2.8"/><circle cx="162.2" cy="244.5" r="2.8"/><circle cx="162.2" cy="243.3" r="2.8"/><circle cx="162.2" cy="242" r="2.8"/><circle cx="162.2" cy="240.8" r="2.8"/><circle cx="162.2" cy="239.6" r="2.8"/><circle cx="200.7" cy="243.3" r="2.8"/><circle cx="200.7" cy="242.3" r="2.8"/><circle cx="200.7" cy="241.4" r="2.8"/><circle cx="200.7" cy="240.5" r="2.8"/><circle cx="200.7" cy="239.6" r="2.8"/><circle cx="200.7" cy="238.6" r="2.8"/><circle cx="200.7" cy="237.7" r="2.8" fill="#fafbfe"/><circle cx="200.7" cy="243.1" r="2.8"/><circle cx="200.7" cy="241.6" r="2.8"/><circle cx="200.7" cy="240.2" r="2.8"/><circle cx="200.7" cy="238.8" r="2.8"/><circle cx="200.7" cy="237.4" r="2.8"/><circle cx="200.7" cy="236" r="2.8"/><circle cx="200.7" cy="234.5" r="2.8"/><circle cx="200.7" cy="233.1" r="2.8"/><circle cx="200.7" cy="231.7" r="2.8"/><circle cx="200.7" cy="230.3" r="2.8"/><circle cx="200.7" cy="228.9" r="2.8"/><circle cx="200.7" cy="227.4" r="2.8"/><circle cx="200.7" cy="226" r="2.8"/><circle cx="200.7" cy="224.6" r="2.8"/><circle cx="200.7" cy="223.2" r="2.8"/><circle cx="200.7" cy="221.8" r="2.8"/><circle cx="200.7" cy="220.3" r="2.8"/><circle cx="200.7" cy="218.9" r="2.8"/><circle cx="200.7" cy="217.5" r="2.8"/><circle cx="200.7" cy="216.1" r="2.8"/><circle cx="200.7" cy="214.7" r="2.8"/><circle cx="69" cy="299.9" r="2.8"/><circle cx="72.6" cy="297.6" r="2.8"/><circle cx="76.1" cy="295.3" r="2.8"/><circle cx="79.7" cy="293" r="2.8"/><circle cx="83.2" cy="290.7" r="2.8"/><circle cx="86.7" cy="288.4" r="2.8"/><circle cx="90.3" cy="286.1" r="2.8"/><circle cx="93.8" cy="283.8" r="2.8"/><circle cx="97.4" cy="281.5" r="2.8"/><circle cx="100.9" cy="279.2" r="2.8"/><circle cx="104.5" cy="276.9" r="2.8"/><circle cx="108" cy="274.6" r="2.8"/><circle cx="111.6" cy="272.3" r="2.8"/><circle cx="115.1" cy="270.1" r="2.8"/><circle cx="118.6" cy="267.8" r="2.8"/><circle cx="122.2" cy="265.5" r="2.8"/><circle cx="125.7" cy="263.2" r="2.8"/><circle cx="129.3" cy="260.9" r="2.8"/><circle cx="132.8" cy="258.6" r="2.8"/><circle cx="136.4" cy="256.3" r="2.8"/><circle cx="69" cy="236.2" r="2.8"/><circle cx="92.9" cy="236.2" r="2.8"/><circle cx="69" cy="254.5" r="2.8"/><circle cx="96.7" cy="254.5" r="2.8"/><circle cx="130.8" cy="281" r="2.8"/><circle cx="116.7" cy="289" r="2.8"/><circle cx="142.2" cy="252.3" r="2.8"/><circle cx="147.3" cy="248.7" r="2.8"/><circle cx="152.4" cy="246.1" r="2.8"/><circle cx="162.1" cy="239.3" r="2.8"/><circle cx="167.3" cy="236.2" r="2.8"/><circle cx="173.2" cy="235.9" r="2.8"/><circle cx="206.2" cy="235.6" r="2.8"/><circle cx="166.6" cy="254.4" r="2.8"/><circle cx="145.1" cy="272" r="2.8"/><circle cx="149.5" cy="267.2" r="2.8"/><circle cx="148" cy="263.8" r="2.8"/><circle cx="200.5" cy="214.5" r="2.8"/><circle cx="186" cy="224" r="2.8"/></g>
<g class="h"><line x1="232" y1="305.85" x2="232" y2="185.35" stroke-width="1.6" stroke="#a6bbe2"/><line x1="232.8" y1="305.85" x2="232.8" y2="303.95" stroke-width="1.0" stroke="#9db5e0"/><line x1="233.8" y1="305.85" x2="233.8" y2="303.95" stroke-width="1.0" stroke="#9db5e0"/><line x1="234.8" y1="305.85" x2="234.8" y2="302.25" stroke-width="1.0" stroke="#9db5e0"/><line x1="235.8" y1="305.85" x2="235.8" y2="302.25" stroke-width="1.0" stroke="#9db5e0"/><line x1="236.8" y1="305.85" x2="236.8" y2="303.95" stroke-width="1.0" stroke="#9db5e0"/><line x1="237.8" y1="305.85" x2="237.8" y2="303.95" stroke-width="1.0" stroke="#9db5e0"/><line x1="238.8" y1="305.85" x2="238.8" y2="303.95" stroke-width="1.0" stroke="#9db5e0"/><line x1="239.8" y1="305.85" x2="239.8" y2="303.95" stroke-width="1.0" stroke="#9db5e0"/><line x1="240.8" y1="305.85" x2="240.8" y2="303.95" stroke-width="1.0" stroke="#9db5e0"/><line x1="241.8" y1="305.85" x2="241.8" y2="303.95" stroke-width="1.0" stroke="#9db5e0"/><line x1="242.8" y1="305.85" x2="242.8" y2="303.95" stroke-width="1.0" stroke="#9db5e0"/><line x1="243.8" y1="305.85" x2="243.8" y2="303.95" stroke-width="1.0" stroke="#9db5e0"/><line x1="244.8" y1="305.85" x2="244.8" y2="303.95" stroke-width="1.0" stroke="#9db5e0"/><line x1="245.8" y1="305.85" x2="245.8" y2="303.95" stroke-width="1.0" stroke="#9db5e0"/><line x1="246.8" y1="305.85" x2="246.8" y2="303.95" stroke-width="1.0" stroke="#9db5e0"/><line x1="247.8" y1="305.85" x2="247.8" y2="303.95" stroke-width="1.0" stroke="#9db5e0"/><line x1="248.8" y1="305.85" x2="248.8" y2="303.95" stroke-width="1.0" stroke="#9db5e0"/><line x1="249.8" y1="305.85" x2="249.8" y2="303.95" stroke-width="1.0" stroke="#9db5e0"/><line x1="250.8" y1="305.85" x2="250.8" y2="303.95" stroke-width="1.0" stroke="#9db5e0"/><line x1="251.8" y1="305.85" x2="251.8" y2="303.95" stroke-width="1.0" stroke="#9db5e0"/><line x1="252.8" y1="305.85" x2="252.8" y2="303.95" stroke-width="1.0" stroke="#9db5e0"/><line x1="253.8" y1="305.85" x2="253.8" y2="303.95" stroke-width="1.0" stroke="#9db5e0"/><line x1="266" y1="305.85" x2="266" y2="304.95" stroke-width="46" stroke="#b5c6e6"/></g>
<g class="d" fill="#416db4" stroke="#fff" stroke-width="0.55"><line x1="394.6" y1="296" x2="394.8" y2="292.6" stroke="#416db4" stroke-width="1.5" opacity="0.85"/><line x1="394.9" y1="290.8" x2="395" y2="287.5" stroke="#416db4" stroke-width="1.5" opacity="0.85"/><line x1="395.1" y1="285.7" x2="395.3" y2="282.4" stroke="#416db4" stroke-width="1.5" opacity="0.85"/><line x1="395.3" y1="280.6" x2="395.4" y2="279.5" stroke="#416db4" stroke-width="1.5" opacity="0.85"/><line x1="395" y1="296" x2="395.4" y2="292.6" stroke="#416db4" stroke-width="1.5" opacity="0.85"/><line x1="395.6" y1="290.8" x2="396" y2="287.5" stroke="#416db4" stroke-width="1.5" opacity="0.85"/><line x1="396.2" y1="285.7" x2="396.6" y2="282.4" stroke="#416db4" stroke-width="1.5" opacity="0.85"/><line x1="396.9" y1="280.6" x2="397" y2="279.5" stroke="#416db4" stroke-width="1.5" opacity="0.85"/><line x1="395.3" y1="296" x2="396" y2="292.6" stroke="#416db4" stroke-width="1.5" opacity="0.85"/><line x1="396.4" y1="290.8" x2="397.1" y2="287.5" stroke="#416db4" stroke-width="1.5" opacity="0.85"/><line x1="397.5" y1="285.7" x2="398.2" y2="282.4" stroke="#416db4" stroke-width="1.5" opacity="0.85"/><line x1="398.6" y1="280.6" x2="398.8" y2="279.5" stroke="#416db4" stroke-width="1.5" opacity="0.85"/><circle cx="395.1" cy="279.5" r="2.5"/><circle cx="397.1" cy="280" r="2.5"/><circle cx="399.1" cy="280.6" r="2.5"/><circle cx="395.3" cy="275.3" r="2.5"/><circle cx="397.6" cy="275.8" r="2.5"/><circle cx="400" cy="276.3" r="2.5"/><circle cx="395.4" cy="271.1" r="2.5"/><circle cx="398.2" cy="271.6" r="2.5"/><circle cx="400.9" cy="272.1" r="2.5"/><circle cx="395.6" cy="266.9" r="2.5"/><circle cx="398.7" cy="267.4" r="2.5"/><circle cx="401.9" cy="267.9" r="2.5"/><circle cx="395.7" cy="262.7" r="2.5"/><circle cx="398.1" cy="263" r="2.5"/><circle cx="400.5" cy="263.3" r="2.5"/><circle cx="402.8" cy="263.7" r="2.5"/><circle cx="395.9" cy="258.4" r="2.5"/><circle cx="398.5" cy="258.8" r="2.5"/><circle cx="401.1" cy="259.1" r="2.5"/><circle cx="403.8" cy="259.5" r="2.5"/><circle cx="396" cy="254.2" r="2.5"/><circle cx="398.9" cy="254.6" r="2.5"/><circle cx="401.8" cy="254.9" r="2.5"/><circle cx="404.7" cy="255.3" r="2.5"/><line x1="397.6" y1="293.9" x2="399.2" y2="290.6" stroke="#416db4" stroke-width="1.7" opacity="0.9"/><line x1="400.2" y1="288.8" x2="401.8" y2="285.4" stroke="#416db4" stroke-width="1.7" opacity="0.9"/><line x1="402.7" y1="283.6" x2="404.4" y2="280.3" stroke="#416db4" stroke-width="1.7" opacity="0.9"/><line x1="405.3" y1="278.5" x2="407" y2="275.2" stroke="#416db4" stroke-width="1.7" opacity="0.9"/><circle cx="407.4" cy="274.4" r="2.45"/><circle cx="409.7" cy="269.9" r="2.45"/><circle cx="412" cy="265.3" r="2.45"/><line x1="410" y1="261.6" x2="412.7" y2="261.3" stroke="#5f86c5" stroke-width="1.2"/><circle cx="414.2" cy="260.8" r="2.45"/><line x1="411.1" y1="257.1" x2="413.8" y2="256.8" stroke="#5f86c5" stroke-width="1.2"/><circle cx="415.3" cy="256.3" r="2.45"/><circle cx="417.7" cy="256.3" r="2.45"/><line x1="413.4" y1="252.5" x2="416.1" y2="252.3" stroke="#5f86c5" stroke-width="1.2"/><circle cx="417.6" cy="251.8" r="2.45"/><circle cx="420" cy="251.8" r="2.45"/><line x1="415.7" y1="248" x2="418.4" y2="247.8" stroke="#5f86c5" stroke-width="1.2"/><circle cx="419.9" cy="247.2" r="2.45"/><circle cx="422.3" cy="247.2" r="2.45"/><line x1="417.9" y1="243.5" x2="420.6" y2="243.2" stroke="#5f86c5" stroke-width="1.2"/><circle cx="422.1" cy="242.7" r="2.45"/><circle cx="424.5" cy="242.7" r="2.45"/><line x1="420.2" y1="239" x2="422.9" y2="238.7" stroke="#5f86c5" stroke-width="1.2"/><circle cx="424.4" cy="238.2" r="2.45"/><circle cx="426.8" cy="238.2" r="2.45"/><line x1="422.5" y1="234.4" x2="425.2" y2="234.2" stroke="#5f86c5" stroke-width="1.2"/><circle cx="426.7" cy="233.7" r="2.45"/><circle cx="429.1" cy="233.7" r="2.45"/><line x1="398.3" y1="293.9" x2="400.4" y2="290.6" stroke="#416db4" stroke-width="1.7" opacity="0.9"/><line x1="401.5" y1="288.8" x2="403.6" y2="285.4" stroke="#416db4" stroke-width="1.7" opacity="0.9"/><line x1="404.8" y1="283.6" x2="406.9" y2="280.3" stroke="#416db4" stroke-width="1.7" opacity="0.9"/><line x1="408" y1="278.5" x2="410.1" y2="275.2" stroke="#416db4" stroke-width="1.7" opacity="0.9"/><line x1="411.2" y1="273.4" x2="412.2" y2="271.8" stroke="#416db4" stroke-width="1.7" opacity="0.9"/><circle cx="413.5" cy="269.8" r="2.45"/><circle cx="416.3" cy="265.2" r="2.45"/><line x1="414.9" y1="261.5" x2="417.6" y2="261.2" stroke="#5f86c5" stroke-width="1.2"/><circle cx="419.1" cy="260.7" r="2.45"/><line x1="416.6" y1="257" x2="419.3" y2="256.7" stroke="#5f86c5" stroke-width="1.2"/><circle cx="420.8" cy="256.2" r="2.45"/><circle cx="423.2" cy="256.2" r="2.45"/><line x1="419.4" y1="252.4" x2="422.1" y2="252.2" stroke="#5f86c5" stroke-width="1.2"/><circle cx="423.6" cy="251.7" r="2.45"/><circle cx="426" cy="251.7" r="2.45"/><line x1="422.2" y1="247.9" x2="424.9" y2="247.7" stroke="#5f86c5" stroke-width="1.2"/><circle cx="426.4" cy="247.1" r="2.45"/><circle cx="428.8" cy="247.1" r="2.45"/><line x1="425.1" y1="243.4" x2="427.8" y2="243.1" stroke="#5f86c5" stroke-width="1.2"/><circle cx="429.3" cy="242.6" r="2.45"/><circle cx="431.7" cy="242.6" r="2.45"/><line x1="427.9" y1="238.9" x2="430.6" y2="238.6" stroke="#5f86c5" stroke-width="1.2"/><circle cx="432.1" cy="238.1" r="2.45"/><circle cx="434.5" cy="238.1" r="2.45"/><line x1="399.4" y1="293.9" x2="402.1" y2="290.6" stroke="#416db4" stroke-width="1.7" opacity="0.9"/><line x1="403.6" y1="288.8" x2="406.3" y2="285.4" stroke="#416db4" stroke-width="1.7" opacity="0.9"/><line x1="407.7" y1="283.6" x2="410.4" y2="280.3" stroke="#416db4" stroke-width="1.7" opacity="0.9"/><line x1="411.8" y1="278.5" x2="414.5" y2="275.2" stroke="#416db4" stroke-width="1.7" opacity="0.9"/><circle cx="416" cy="273.4" r="2.45"/><circle cx="419.6" cy="268.8" r="2.45"/><circle cx="423.3" cy="264.3" r="2.45"/><line x1="422.7" y1="260.6" x2="425.4" y2="260.3" stroke="#5f86c5" stroke-width="1.2"/><circle cx="426.9" cy="259.8" r="2.45"/><line x1="425.2" y1="256" x2="427.9" y2="255.8" stroke="#5f86c5" stroke-width="1.2"/><circle cx="429.4" cy="255.3" r="2.45"/><circle cx="431.8" cy="255.3" r="2.45"/><line x1="428.8" y1="251.5" x2="431.5" y2="251.3" stroke="#5f86c5" stroke-width="1.2"/><circle cx="433" cy="250.7" r="2.45"/><circle cx="435.4" cy="250.7" r="2.45"/><line x1="432.4" y1="247" x2="435.1" y2="246.7" stroke="#5f86c5" stroke-width="1.2"/><circle cx="436.6" cy="246.2" r="2.45"/><circle cx="439" cy="246.2" r="2.45"/><line x1="436.1" y1="242.5" x2="438.8" y2="242.2" stroke="#5f86c5" stroke-width="1.2"/><circle cx="440.3" cy="241.7" r="2.45"/><circle cx="442.7" cy="241.7" r="2.45"/><line x1="439.7" y1="237.9" x2="442.4" y2="237.7" stroke="#5f86c5" stroke-width="1.2"/><circle cx="443.9" cy="237.2" r="2.45"/><circle cx="446.3" cy="237.2" r="2.45"/><line x1="400.5" y1="293.9" x2="403.7" y2="290.6" stroke="#416db4" stroke-width="1.7" opacity="0.9"/><line x1="405.5" y1="288.8" x2="408.7" y2="285.4" stroke="#416db4" stroke-width="1.7" opacity="0.9"/><line x1="410.5" y1="283.6" x2="413.7" y2="280.3" stroke="#416db4" stroke-width="1.7" opacity="0.9"/><line x1="415.5" y1="278.5" x2="418.7" y2="275.2" stroke="#416db4" stroke-width="1.7" opacity="0.9"/><line x1="420.5" y1="273.4" x2="422" y2="271.8" stroke="#416db4" stroke-width="1.7" opacity="0.9"/><circle cx="424.5" cy="269.2" r="2.45"/><circle cx="428.9" cy="264.7" r="2.45"/><line x1="429.1" y1="261" x2="431.8" y2="260.7" stroke="#5f86c5" stroke-width="1.2"/><circle cx="433.3" cy="260.2" r="2.45"/><line x1="432.3" y1="256.4" x2="435" y2="256.2" stroke="#5f86c5" stroke-width="1.2"/><circle cx="436.5" cy="255.7" r="2.45"/><circle cx="438.9" cy="255.7" r="2.45"/><line x1="436.7" y1="251.9" x2="439.4" y2="251.7" stroke="#5f86c5" stroke-width="1.2"/><circle cx="440.9" cy="251.1" r="2.45"/><circle cx="443.3" cy="251.1" r="2.45"/><line x1="441.1" y1="247.4" x2="443.8" y2="247.1" stroke="#5f86c5" stroke-width="1.2"/><circle cx="445.3" cy="246.6" r="2.45"/><circle cx="447.7" cy="246.6" r="2.45"/><line x1="445.5" y1="242.9" x2="448.2" y2="242.6" stroke="#5f86c5" stroke-width="1.2"/><circle cx="449.7" cy="242.1" r="2.45"/><circle cx="452.1" cy="242.1" r="2.45"/><circle cx="395.9" cy="257.7" r="2.8"/><circle cx="399.5" cy="258.5" r="2.8"/><circle cx="403.2" cy="259.2" r="2.8"/><circle cx="399.5" cy="251.9" r="2.8"/><circle cx="403.6" cy="252.2" r="2.8"/><circle cx="407.5" cy="252.6" r="2.8"/><circle cx="397.4" cy="239.5" r="2.8"/><circle cx="401" cy="241" r="2.8"/><circle cx="404.6" cy="241.7" r="2.8"/><circle cx="408.3" cy="242.5" r="2.8"/><circle cx="402.5" cy="235.9" r="2.8"/><circle cx="406.8" cy="235.5" r="2.8"/><circle cx="411.2" cy="235.2" r="2.8"/><circle cx="454.8" cy="259.9" r="2.8" fill="#cfdaf0"/><circle cx="441" cy="269.4" r="2.8" fill="#cfdaf0"/><circle cx="434.5" cy="274.5" r="2.8" fill="#cfdaf0"/><circle cx="394.5" cy="299.9" r="2.8"/><circle cx="398.1" cy="297" r="2.8"/><circle cx="402.2" cy="293.1" r="2.8"/><circle cx="406.1" cy="290" r="2.8"/><circle cx="409.7" cy="286.8" r="2.8"/><circle cx="413.4" cy="283.6" r="2.8"/><circle cx="417.3" cy="280.3" r="2.8"/><circle cx="420.6" cy="276.6" r="2.8"/><circle cx="424.3" cy="273.3" r="2.8"/><circle cx="428.6" cy="270.1" r="2.8"/><circle cx="432.3" cy="266.5" r="2.8"/><circle cx="435.9" cy="263.1" r="2.8"/><circle cx="440.3" cy="259.5" r="2.8"/><circle cx="444.3" cy="256" r="2.8"/><circle cx="448.3" cy="252.3" r="2.8"/><circle cx="452.6" cy="249" r="2.8"/><circle cx="456.3" cy="246.1" r="2.8"/><circle cx="456.3" cy="237.4" r="2.8"/><circle cx="459.9" cy="238.1" r="2.8"/><circle cx="463.5" cy="239.5" r="2.8"/><circle cx="462.3" cy="254.8" r="2.8"/><circle cx="461.2" cy="254.8" r="2.8"/><circle cx="460.1" cy="254.8" r="2.8"/><circle cx="459" cy="254.8" r="2.8"/><circle cx="457.9" cy="254.8" r="2.8" fill="#fafbfe"/><circle cx="423.2" cy="223.7" r="2.3"/><circle cx="423.4" cy="223.1" r="2.3"/><circle cx="423.6" cy="222.6" r="2.3"/><circle cx="423.8" cy="222" r="2.3"/><circle cx="424" cy="221.5" r="2.3"/><circle cx="424.1" cy="220.9" r="2.3"/><circle cx="424.3" cy="220.3" r="2.3"/><circle cx="424.5" cy="219.8" r="2.3"/><circle cx="424.7" cy="219.2" r="2.3"/><circle cx="424.9" cy="218.7" r="2.3"/><circle cx="425" cy="218.1" r="2.3"/><circle cx="425.2" cy="217.6" r="2.3"/><circle cx="425.4" cy="217" r="2.3"/><circle cx="425.6" cy="216.5" r="2.3"/><circle cx="425.7" cy="215.9" r="2.3"/><circle cx="425.9" cy="215.4" r="2.3"/><circle cx="426.1" cy="214.8" r="2.3"/><circle cx="426.3" cy="214.3" r="2.3"/><circle cx="426.5" cy="213.7" r="2.3"/><circle cx="426.6" cy="213.1" r="2.3"/><circle cx="426.8" cy="212.6" r="2.3"/><circle cx="427" cy="212" r="2.3"/><circle cx="427.2" cy="211.5" r="2.3"/><circle cx="427.3" cy="210.9" r="2.3"/><circle cx="427.5" cy="210.4" r="2.3"/><circle cx="427.7" cy="209.8" r="2.3"/><circle cx="427.9" cy="209.3" r="2.3"/><circle cx="428.1" cy="208.7" r="2.3"/><circle cx="428.2" cy="208.2" r="2.3"/><circle cx="428.4" cy="207.6" r="2.3"/><circle cx="428.6" cy="207.1" r="2.3" fill="#fafbfe"/><circle cx="432.1" cy="221.6" r="2.3"/><circle cx="432.1" cy="220.7" r="2.3"/><circle cx="432.1" cy="219.8" r="2.3"/><circle cx="432.2" cy="219" r="2.3"/><circle cx="432.2" cy="218.1" r="2.3"/><circle cx="432.2" cy="217.2" r="2.3"/><circle cx="432.2" cy="216.3" r="2.3"/><circle cx="432.2" cy="215.5" r="2.3"/><circle cx="432.3" cy="214.6" r="2.3"/><circle cx="432.3" cy="213.7" r="2.3"/><circle cx="432.3" cy="212.8" r="2.3"/><circle cx="432.3" cy="211.9" r="2.3"/><circle cx="432.3" cy="211.1" r="2.3"/><circle cx="432.4" cy="210.2" r="2.3"/><circle cx="432.4" cy="209.3" r="2.3"/><circle cx="432.4" cy="208.4" r="2.3" fill="#fafbfe"/><circle cx="434.7" cy="201.5" r="2.3"/><circle cx="434.8" cy="200.7" r="2.3"/><circle cx="434.9" cy="200" r="2.3"/><circle cx="435" cy="199.2" r="2.3"/><circle cx="435.1" cy="198.4" r="2.3"/><circle cx="435.3" cy="197.6" r="2.3"/><circle cx="435.4" cy="196.8" r="2.3"/><circle cx="435.5" cy="196" r="2.3"/><circle cx="435.6" cy="195.3" r="2.3"/><circle cx="435.7" cy="194.5" r="2.3"/><circle cx="435.8" cy="193.7" r="2.3"/><circle cx="435.9" cy="192.9" r="2.3"/><circle cx="436" cy="192.1" r="2.3"/><circle cx="436.2" cy="191.3" r="2.3"/><circle cx="436.3" cy="190.6" r="2.3"/><circle cx="436.4" cy="189.8" r="2.3"/><circle cx="436.5" cy="189" r="2.3"/><circle cx="436.6" cy="188.2" r="2.3"/><circle cx="436.7" cy="187.4" r="2.3"/><circle cx="436.8" cy="186.6" r="2.3"/><circle cx="437" cy="185.9" r="2.3"/><circle cx="437.1" cy="185.1" r="2.3"/><circle cx="437.2" cy="184.3" r="2.3"/><circle cx="437.3" cy="183.5" r="2.3" fill="#fafbfe"/><circle cx="437.3" cy="183.5" r="2.3"/><circle cx="437.5" cy="182.9" r="2.3"/><circle cx="437.6" cy="182.4" r="2.3"/><circle cx="437.8" cy="181.8" r="2.3"/><circle cx="438" cy="181.2" r="2.3"/><circle cx="438.1" cy="180.6" r="2.3"/><circle cx="438.3" cy="180.1" r="2.3"/><circle cx="438.4" cy="179.5" r="2.3"/><circle cx="438.6" cy="178.9" r="2.3"/><circle cx="438.8" cy="178.3" r="2.3"/><circle cx="438.9" cy="177.7" r="2.3"/><circle cx="439.1" cy="177.2" r="2.3"/><circle cx="439.3" cy="176.6" r="2.3"/><circle cx="439.5" cy="176" r="2.3"/><circle cx="439.7" cy="175.5" r="2.3"/><circle cx="440" cy="174.9" r="2.3"/><circle cx="440.2" cy="174.4" r="2.3"/><circle cx="440.4" cy="173.8" r="2.3"/><circle cx="440.6" cy="173.3" r="2.3"/><circle cx="440.9" cy="172.7" r="2.3"/><circle cx="441.1" cy="172.2" r="2.3"/><circle cx="441.3" cy="171.6" r="2.3"/><circle cx="441.6" cy="171.1" r="2.3" fill="#fafbfe"/><circle cx="441.6" cy="171.1" r="2.8" fill="#fff" stroke="#dde4f2"/><circle cx="444.6" cy="170.7" r="2.8" fill="#fff" stroke="#dde4f2"/><circle cx="447.7" cy="170.4" r="2.8" fill="#fff" stroke="#dde4f2"/><circle cx="450.7" cy="170.1" r="2.8" fill="#fff" stroke="#dde4f2"/><circle cx="450.7" cy="170.1" r="2.8" fill="#fff" stroke="#dde4f2"/><circle cx="453.8" cy="170.9" r="2.8" fill="#fff" stroke="#dde4f2"/><circle cx="456.8" cy="171.7" r="2.8" fill="#fff" stroke="#dde4f2"/><circle cx="459.9" cy="172.4" r="2.8" fill="#fff" stroke="#dde4f2"/><circle cx="441" cy="209.5" r="2.8"/><circle cx="444.6" cy="209.5" r="2.8"/><circle cx="448.3" cy="209.5" r="2.8"/><circle cx="455.3" cy="209.5" r="2.8"/><line x1="462.1" y1="207.7" x2="464.7" y2="206.8" stroke="#416db4" stroke-width="2.2"/><circle cx="451.9" cy="221.1" r="2.8"/><circle cx="455.5" cy="221.1" r="2.8"/><circle cx="459.2" cy="220.4" r="2.8"/><circle cx="432.3" cy="228.4" r="2.8"/><circle cx="435.9" cy="228.4" r="2.8"/><circle cx="440" cy="228.4" r="2.8"/><line x1="443.2" y1="227.6" x2="446.1" y2="226.6" stroke="#416db4" stroke-width="2.2"/><circle cx="453.4" cy="229.1" r="2.8"/><circle cx="457.7" cy="229.1" r="2.8"/><circle cx="459.9" cy="172.4" r="2.8"/><circle cx="463.5" cy="172.4" r="2.8"/><circle cx="507.2" cy="170.9" r="2.8" fill="#fff" stroke="#dde4f2"/><circle cx="504.3" cy="171.6" r="2.8" fill="#fff" stroke="#dde4f2"/><circle cx="501.4" cy="172.4" r="2.8" fill="#fff" stroke="#dde4f2"/><circle cx="498.5" cy="173.1" r="2.8" fill="#fff" stroke="#dde4f2"/><circle cx="495.5" cy="173.8" r="2.8" fill="#fff" stroke="#dde4f2"/><circle cx="492.6" cy="174.5" r="2.8" fill="#fff" stroke="#dde4f2"/><circle cx="489.7" cy="175.3" r="2.8" fill="#fff" stroke="#dde4f2"/><circle cx="486.8" cy="176" r="2.8" fill="#fff" stroke="#dde4f2"/><circle cx="516.1" cy="171.6" r="2.8"/><circle cx="514.7" cy="171.6" r="2.8"/><circle cx="513.2" cy="171.6" r="2.8"/><circle cx="511.8" cy="171.6" r="2.8"/><circle cx="510.3" cy="171.6" r="2.8"/><circle cx="508.8" cy="171.6" r="2.8" fill="#fafbfe"/><circle cx="467.2" cy="172.4" r="2.8"/><circle cx="475.2" cy="172.4" r="2.8"/><circle cx="486.1" cy="171.6" r="2.8"/><circle cx="511.5" cy="187.9" r="2.8" fill="#fff" stroke="#dde4f2"/><circle cx="508.5" cy="188.6" r="2.8" fill="#fff" stroke="#dde4f2"/><circle cx="505.4" cy="189.3" r="2.8" fill="#fff" stroke="#dde4f2"/><circle cx="502.3" cy="190" r="2.8" fill="#fff" stroke="#dde4f2"/><circle cx="499.2" cy="190.7" r="2.8" fill="#fff" stroke="#dde4f2"/><circle cx="496.1" cy="191.4" r="2.8" fill="#fff" stroke="#dde4f2"/><circle cx="493" cy="192.1" r="2.8" fill="#fff" stroke="#dde4f2"/><circle cx="489.9" cy="192.8" r="2.8" fill="#fff" stroke="#dde4f2"/><circle cx="486.8" cy="193.5" r="2.8" fill="#fff" stroke="#dde4f2"/><circle cx="529.9" cy="188.4" r="2.8"/><circle cx="528.4" cy="188.4" r="2.8"/><circle cx="526.9" cy="188.4" r="2.8"/><circle cx="525.4" cy="188.4" r="2.8"/><circle cx="523.9" cy="188.4" r="2.8"/><circle cx="522.4" cy="188.4" r="2.8"/><circle cx="520.9" cy="188.4" r="2.8"/><circle cx="519.4" cy="188.4" r="2.8"/><circle cx="517.9" cy="188.4" r="2.8"/><circle cx="516.3" cy="188.4" r="2.8"/><circle cx="514.8" cy="188.4" r="2.8"/><circle cx="513.3" cy="188.4" r="2.8"/><circle cx="511.8" cy="188.4" r="2.8"/><circle cx="510.3" cy="188.4" r="2.8" fill="#fafbfe"/><circle cx="475.2" cy="189.1" r="2.8"/><circle cx="478.8" cy="189.1" r="2.8"/><circle cx="482.7" cy="189.1" r="2.8"/><line x1="489.7" y1="187.9" x2="492.9" y2="187.1" stroke="#416db4" stroke-width="2.4"/><circle cx="511.5" cy="200.3" r="2.8" fill="#fff" stroke="#dde4f2"/><circle cx="508.5" cy="200.8" r="2.8" fill="#fff" stroke="#dde4f2"/><circle cx="505.4" cy="201.3" r="2.8" fill="#fff" stroke="#dde4f2"/><circle cx="502.3" cy="201.8" r="2.8" fill="#fff" stroke="#dde4f2"/><circle cx="499.2" cy="202.3" r="2.8" fill="#fff" stroke="#dde4f2"/><circle cx="496.1" cy="202.8" r="2.8" fill="#fff" stroke="#dde4f2"/><circle cx="493" cy="203.3" r="2.8" fill="#fff" stroke="#dde4f2"/><circle cx="489.9" cy="203.9" r="2.8" fill="#fff" stroke="#dde4f2"/><circle cx="486.8" cy="204.4" r="2.8" fill="#fff" stroke="#dde4f2"/><circle cx="526.3" cy="200.4" r="2.8"/><circle cx="524.8" cy="200.4" r="2.8"/><circle cx="523.4" cy="200.4" r="2.8"/><circle cx="521.9" cy="200.4" r="2.8"/><circle cx="520.5" cy="200.4" r="2.8"/><circle cx="519" cy="200.4" r="2.8"/><circle cx="517.6" cy="200.4" r="2.8"/><circle cx="516.1" cy="200.4" r="2.8"/><circle cx="514.7" cy="200.4" r="2.8"/><circle cx="513.2" cy="200.4" r="2.8"/><circle cx="511.8" cy="200.4" r="2.8"/><circle cx="510.3" cy="200.4" r="2.8" fill="#fafbfe"/><circle cx="475.9" cy="201.2" r="2.8"/><circle cx="479.5" cy="201.2" r="2.8"/><circle cx="483.2" cy="201.2" r="2.8"/><line x1="489.7" y1="200.7" x2="492.9" y2="199.7" stroke="#416db4" stroke-width="2.4"/><circle cx="515.9" cy="211.2" r="2.8" fill="#fff" stroke="#dde4f2"/><circle cx="512.8" cy="211.7" r="2.8" fill="#fff" stroke="#dde4f2"/><circle cx="509.6" cy="212.2" r="2.8" fill="#fff" stroke="#dde4f2"/><circle cx="506.5" cy="212.7" r="2.8" fill="#fff" stroke="#dde4f2"/><circle cx="503.3" cy="213.1" r="2.8" fill="#fff" stroke="#dde4f2"/><circle cx="500.2" cy="213.6" r="2.8" fill="#fff" stroke="#dde4f2"/><circle cx="497" cy="214.1" r="2.8" fill="#fff" stroke="#dde4f2"/><circle cx="529.9" cy="211.6" r="2.8"/><circle cx="528.4" cy="211.6" r="2.8"/><circle cx="526.9" cy="211.6" r="2.8"/><circle cx="525.4" cy="211.6" r="2.8"/><circle cx="523.8" cy="211.6" r="2.8"/><circle cx="522.3" cy="211.6" r="2.8"/><circle cx="520.8" cy="211.6" r="2.8"/><circle cx="519.2" cy="211.6" r="2.8"/><circle cx="517.7" cy="211.6" r="2.8"/><circle cx="516.2" cy="211.6" r="2.8"/><circle cx="514.7" cy="211.6" r="2.8" fill="#fafbfe"/><circle cx="481" cy="211.9" r="2.8"/><circle cx="486.1" cy="211.9" r="2.8"/><circle cx="492.6" cy="214.5" r="2.8"/><line x1="493.4" y1="210.6" x2="496.3" y2="209.7" stroke="#416db4" stroke-width="2.2"/><circle cx="490.7" cy="220.4" r="2.8"/><circle cx="489.1" cy="220.4" r="2.8"/><circle cx="487.5" cy="220.4" r="2.8"/><circle cx="486" cy="220.4" r="2.8"/><circle cx="484.4" cy="220.4" r="2.8"/><circle cx="482.9" cy="220.4" r="2.8"/><circle cx="481.3" cy="220.4" r="2.8"/><circle cx="479.8" cy="220.4" r="2.8" fill="#fafbfe"/><circle cx="481.4" cy="224" r="2.8"/><circle cx="487.8" cy="228.7" r="2.8"/><circle cx="486.2" cy="228.7" r="2.8"/><circle cx="484.6" cy="228.7" r="2.8"/><circle cx="483" cy="228.7" r="2.8"/><circle cx="481.5" cy="228.7" r="2.8"/><circle cx="479.9" cy="228.7" r="2.8"/><circle cx="478.3" cy="228.7" r="2.8" fill="#fafbfe"/><circle cx="467.2" cy="236.6" r="2.8"/><circle cx="490.7" cy="237.1" r="2.8"/><circle cx="489.3" cy="237.1" r="2.8"/><circle cx="487.9" cy="237.1" r="2.8"/><circle cx="486.6" cy="237.1" r="2.8"/><circle cx="485.2" cy="237.1" r="2.8"/><circle cx="483.8" cy="237.1" r="2.8"/><circle cx="482.5" cy="237.1" r="2.8"/><circle cx="481.1" cy="237.1" r="2.8"/><circle cx="479.8" cy="237.1" r="2.8" fill="#fafbfe"/><circle cx="467.4" cy="243.9" r="2.8"/><circle cx="465.7" cy="243.9" r="2.8"/><circle cx="464" cy="243.9" r="2.8"/><circle cx="462.3" cy="243.9" r="2.8" fill="#fafbfe"/><circle cx="469.6" cy="250.7" r="2.8"/><circle cx="468.1" cy="250.7" r="2.8"/><circle cx="466.7" cy="250.7" r="2.8"/><circle cx="465.2" cy="250.7" r="2.8"/><circle cx="463.8" cy="250.7" r="2.8"/><circle cx="462.3" cy="250.7" r="2.8" fill="#fafbfe"/></g>
<g class="d" fill="#416db4" stroke="#fff" stroke-width="0.55"><circle cx="142" cy="387.5" r="2.8"/><circle cx="142" cy="386.5" r="2.8"/><circle cx="142" cy="385.6" r="2.8"/><circle cx="142" cy="384.7" r="2.8"/><circle cx="142" cy="383.8" r="2.8"/><circle cx="142" cy="382.9" r="2.8" fill="#fafbfe"/><circle cx="142" cy="382.9" r="2.8" fill="#9db4de"/><circle cx="136" cy="391.8" r="2.8"/><circle cx="136" cy="390.7" r="2.8"/><circle cx="136" cy="389.5" r="2.8"/><circle cx="136" cy="388.3" r="2.8" fill="#fafbfe"/><circle cx="136" cy="388.3" r="2.8" fill="#a9bde2"/><circle cx="127.8" cy="399.5" r="2.8"/><circle cx="127.8" cy="398.3" r="2.8"/><circle cx="127.8" cy="397.1" r="2.8" fill="#fafbfe"/><circle cx="127.8" cy="397.1" r="2.8" fill="#c3d1eb"/><circle cx="122.4" cy="403.3" r="2.8"/><circle cx="122.4" cy="402.3" r="2.8"/><circle cx="122.4" cy="401.4" r="2.8" fill="#fafbfe"/><circle cx="122.4" cy="401.4" r="2.8" fill="#d6e0f1"/><circle cx="113.6" cy="410.9" r="2.8"/><circle cx="113.6" cy="410.4" r="2.8" fill="#fafbfe"/><circle cx="113.6" cy="410.4" r="2.8" fill="#e3e9f5"/><circle cx="107.1" cy="416.4" r="2.8"/><circle cx="107.1" cy="416.5" r="2.8" fill="#fafbfe"/><circle cx="107.1" cy="416.5" r="2.8" fill="#e9eef7"/><circle cx="115.3" cy="454.9" r="2.8"/><circle cx="115.3" cy="454.3" r="2.8"/><circle cx="115.3" cy="453.6" r="2.8"/><circle cx="115.3" cy="453" r="2.8"/><circle cx="115.3" cy="452.4" r="2.8"/><circle cx="115.3" cy="451.7" r="2.8"/><circle cx="115.3" cy="451.1" r="2.8"/><circle cx="115.3" cy="450.5" r="2.8"/><circle cx="115.3" cy="449.8" r="2.8"/><circle cx="115.3" cy="449.2" r="2.8"/><circle cx="115.3" cy="448.6" r="2.8"/><circle cx="115.3" cy="447.9" r="2.8"/><circle cx="115.3" cy="447.3" r="2.8" fill="#fafbfe"/><circle cx="111.4" cy="454.9" r="2.8"/><circle cx="111.4" cy="454.3" r="2.8"/><circle cx="111.4" cy="453.6" r="2.8"/><circle cx="111.4" cy="453" r="2.8"/><circle cx="111.4" cy="452.4" r="2.8"/><circle cx="111.4" cy="451.7" r="2.8"/><circle cx="111.4" cy="451.1" r="2.8"/><circle cx="111.4" cy="450.5" r="2.8"/><circle cx="111.4" cy="449.8" r="2.8"/><circle cx="111.4" cy="449.2" r="2.8"/><circle cx="111.4" cy="448.6" r="2.8"/><circle cx="111.4" cy="447.9" r="2.8"/><circle cx="111.4" cy="447.3" r="2.8" fill="#fafbfe"/><circle cx="107.6" cy="454.9" r="2.8"/><circle cx="107.6" cy="454.3" r="2.8"/><circle cx="107.6" cy="453.6" r="2.8"/><circle cx="107.6" cy="453" r="2.8"/><circle cx="107.6" cy="452.4" r="2.8"/><circle cx="107.6" cy="451.7" r="2.8"/><circle cx="107.6" cy="451.1" r="2.8"/><circle cx="107.6" cy="450.5" r="2.8"/><circle cx="107.6" cy="449.8" r="2.8"/><circle cx="107.6" cy="449.2" r="2.8"/><circle cx="107.6" cy="448.6" r="2.8"/><circle cx="107.6" cy="447.9" r="2.8"/><circle cx="107.6" cy="447.3" r="2.8" fill="#fafbfe"/><circle cx="103.8" cy="454.9" r="2.8"/><circle cx="103.8" cy="454.3" r="2.8"/><circle cx="103.8" cy="453.6" r="2.8"/><circle cx="103.8" cy="453" r="2.8"/><circle cx="103.8" cy="452.4" r="2.8"/><circle cx="103.8" cy="451.7" r="2.8"/><circle cx="103.8" cy="451.1" r="2.8"/><circle cx="103.8" cy="450.5" r="2.8"/><circle cx="103.8" cy="449.8" r="2.8"/><circle cx="103.8" cy="449.2" r="2.8"/><circle cx="103.8" cy="448.6" r="2.8"/><circle cx="103.8" cy="447.9" r="2.8"/><circle cx="103.8" cy="447.3" r="2.8" fill="#fafbfe"/><circle cx="96.9" cy="456.8" r="2.8" fill="#fff" stroke="#dfe6f4"/><circle cx="96.9" cy="453.3" r="2.8" fill="#fff" stroke="#dfe6f4"/><circle cx="92.3" cy="456.8" r="2.8" fill="#fff" stroke="#dfe6f4"/><circle cx="92.3" cy="453.3" r="2.8" fill="#fff" stroke="#dfe6f4"/><circle cx="87.7" cy="456.8" r="2.8" fill="#fff" stroke="#dfe6f4"/><circle cx="87.7" cy="453.3" r="2.8" fill="#fff" stroke="#dfe6f4"/><circle cx="83.1" cy="456.8" r="2.8" fill="#fff" stroke="#dfe6f4"/><circle cx="83.1" cy="453.3" r="2.8" fill="#fff" stroke="#dfe6f4"/><circle cx="78.5" cy="456.8" r="2.8" fill="#fff" stroke="#dfe6f4"/><circle cx="78.5" cy="453.3" r="2.8" fill="#fff" stroke="#dfe6f4"/><circle cx="136.4" cy="455.3" r="2.8"/><circle cx="136.4" cy="453.9" r="2.8"/><circle cx="136.4" cy="452.6" r="2.8"/><circle cx="136.4" cy="451.2" r="2.8"/><circle cx="136.4" cy="449.8" r="2.8"/><circle cx="136.4" cy="448.4" r="2.8"/><circle cx="136.4" cy="447" r="2.8"/><circle cx="136.4" cy="445.6" r="2.8"/><circle cx="136.4" cy="444.2" r="2.8"/><circle cx="136.4" cy="442.9" r="2.8" fill="#fafbfe"/><circle cx="136.4" cy="441.5" r="2.8" fill="#fff" stroke="#dde4f2"/><circle cx="136.4" cy="438.5" r="2.8" fill="#fff" stroke="#dde4f2"/><circle cx="136.4" cy="435.4" r="2.8" fill="#fff" stroke="#dde4f2"/><circle cx="136.4" cy="432.4" r="2.8" fill="#fff" stroke="#dde4f2"/><circle cx="136.4" cy="429.3" r="2.8" fill="#fff" stroke="#dde4f2"/><circle cx="136.4" cy="426.3" r="2.8" fill="#fff" stroke="#dde4f2"/><circle cx="129" cy="454.6" r="2.8"/><circle cx="129" cy="453.5" r="2.8"/><circle cx="129" cy="452.5" r="2.8"/><circle cx="129" cy="451.4" r="2.8"/><circle cx="129" cy="450.3" r="2.8"/><circle cx="129" cy="449.2" r="2.8"/><circle cx="129" cy="448.1" r="2.8"/><circle cx="129" cy="447" r="2.8" fill="#fafbfe"/><circle cx="124.4" cy="455.3" r="2.8"/><circle cx="124.4" cy="454.1" r="2.8"/><circle cx="124.4" cy="452.9" r="2.8"/><circle cx="124.4" cy="451.7" r="2.8"/><circle cx="124.4" cy="450.5" r="2.8"/><circle cx="124.4" cy="449.3" r="2.8"/><circle cx="124.4" cy="448.1" r="2.8"/><circle cx="124.4" cy="446.8" r="2.8"/><circle cx="124.4" cy="445.6" r="2.8" fill="#fafbfe"/><circle cx="136.4" cy="422.1" r="2.8"/><circle cx="136.4" cy="419.7" r="2.8"/><circle cx="136.4" cy="417.3" r="2.8"/><circle cx="136.4" cy="414.9" r="2.8"/><circle cx="136.4" cy="412.4" r="2.8"/><circle cx="124.4" cy="427.2" r="2.8"/><circle cx="124.4" cy="425.6" r="2.8"/><circle cx="124.4" cy="424" r="2.8"/><circle cx="124.4" cy="422.3" r="2.8" fill="#fafbfe"/><circle cx="124.4" cy="420.8" r="2.8"/><circle cx="124.4" cy="418" r="2.8"/><circle cx="124.4" cy="415.2" r="2.8"/><line x1="127.8" y1="428.4" x2="130.2" y2="426.6" stroke="#6389c7" stroke-width="1.4"/><line x1="127.8" y1="425.6" x2="130.2" y2="423.5" stroke="#6389c7" stroke-width="1.4"/><line x1="127.8" y1="419.6" x2="130.2" y2="418" stroke="#6389c7" stroke-width="1.4"/><line x1="127.8" y1="416.9" x2="130.2" y2="415.2" stroke="#6389c7" stroke-width="1.4"/><line x1="132.4" y1="444.6" x2="132.4" y2="440.9" stroke="#416db4" stroke-width="1.6"/><line x1="118.3" y1="449.9" x2="118.3" y2="447.6" stroke="#416db4" stroke-width="1.6"/><line x1="118.3" y1="444" x2="118.3" y2="441.5" stroke="#416db4" stroke-width="1.6"/><line x1="100.3" y1="457.5" x2="101.2" y2="453.3" stroke="#7d9dd2" stroke-width="0.9"/><line x1="101.2" y1="453.3" x2="101.5" y2="436" stroke="#7d9dd2" stroke-width="0.9"/><line x1="78.1" y1="454.2" x2="80.5" y2="452.5" stroke="#416db4" stroke-width="1.6"/><line x1="82.7" y1="450.7" x2="85.1" y2="449" stroke="#416db4" stroke-width="1.6"/><line x1="87.3" y1="447.2" x2="89.7" y2="445.6" stroke="#416db4" stroke-width="1.6"/><line x1="92.6" y1="443.8" x2="95.1" y2="442.1" stroke="#416db4" stroke-width="1.6"/><line x1="96.9" y1="440.7" x2="99.3" y2="439.1" stroke="#416db4" stroke-width="1.6"/><line x1="101" y1="438.2" x2="103.5" y2="436.6" stroke="#416db4" stroke-width="1.6"/><circle cx="114.5" cy="434.8" r="2.8"/><circle cx="114.5" cy="433.1" r="2.8"/><circle cx="114.5" cy="431.3" r="2.8"/><circle cx="114.5" cy="429.5" r="2.8" fill="#fafbfe"/><circle cx="111" cy="434.1" r="2.8"/><circle cx="111" cy="431.6" r="2.8"/><circle cx="111" cy="429" r="2.8" fill="#fafbfe"/><circle cx="106.8" cy="433.4" r="2.8"/><circle cx="106.8" cy="431.6" r="2.8"/><circle cx="106.8" cy="429.7" r="2.8"/><circle cx="106.8" cy="427.9" r="2.8" fill="#fafbfe"/><circle cx="103" cy="437.6" r="2.8"/><circle cx="103" cy="435.2" r="2.8"/><circle cx="103" cy="432.7" r="2.8" fill="#fafbfe"/><line x1="99.3" y1="438.6" x2="100.3" y2="437" stroke="#416db4" stroke-width="1.4"/><line x1="94.3" y1="442.1" x2="95.2" y2="440.4" stroke="#416db4" stroke-width="1.4"/><line x1="89.3" y1="445.6" x2="90.2" y2="443.9" stroke="#416db4" stroke-width="1.4"/><line x1="84.7" y1="448.8" x2="85.6" y2="447.1" stroke="#416db4" stroke-width="1.4"/><line x1="79.5" y1="452.1" x2="80.4" y2="450.4" stroke="#416db4" stroke-width="1.4"/><circle cx="69.1" cy="446.4" r="2.8"/><circle cx="69.1" cy="442.9" r="2.8"/><circle cx="69.1" cy="438.4" r="2.8"/><circle cx="69.1" cy="431.1" r="2.8"/><circle cx="69.1" cy="432.7" r="2.8"/><circle cx="69.1" cy="434.3" r="2.8"/><circle cx="69.1" cy="427" r="2.8"/><circle cx="69.1" cy="415.2" r="2.8"/><circle cx="73.2" cy="443.6" r="2.8"/><circle cx="78.5" cy="451.9" r="2.8" fill="#fff" stroke="#b9c8e6"/><circle cx="81.6" cy="450.6" r="2.8" fill="#fff" stroke="#b9c8e6"/><circle cx="79.8" cy="449.3" r="2.8"/><circle cx="85" cy="446" r="2.8"/><circle cx="89.6" cy="442.8" r="2.8"/><circle cx="94.6" cy="439.3" r="2.8"/><circle cx="99.7" cy="435.9" r="2.8"/><circle cx="103.8" cy="432.4" r="2.8"/><circle cx="109.9" cy="428.2" r="2.8"/><circle cx="114.9" cy="424.5" r="2.8"/><circle cx="120.6" cy="420.6" r="2.8"/><circle cx="124.4" cy="417.1" r="2.8"/><circle cx="131.3" cy="413.3" r="2.8"/><circle cx="136.4" cy="409.5" r="2.8"/><circle cx="69.1" cy="455.1" r="2.8"/><circle cx="74.7" cy="451.2" r="2.8"/><circle cx="79.8" cy="447.4" r="2.8"/><circle cx="85" cy="444" r="2.8"/><circle cx="89.6" cy="440.9" r="2.8"/><circle cx="94.6" cy="437.4" r="2.8"/><circle cx="99.7" cy="433.9" r="2.8"/><circle cx="103.8" cy="430.5" r="2.8"/><circle cx="109.9" cy="426.3" r="2.8"/><circle cx="114.9" cy="422.6" r="2.8"/><circle cx="120.6" cy="418.7" r="2.8"/><circle cx="124.4" cy="415.2" r="2.8"/><circle cx="131.3" cy="411.3" r="2.8"/><circle cx="136.4" cy="407.6" r="2.8"/><circle cx="92.6" cy="415.2" r="2.8"/><circle cx="143.1" cy="402.7" r="2.8"/><circle cx="147.7" cy="399.3" r="2.8"/><circle cx="152.6" cy="395.8" r="2.8"/><circle cx="142.3" cy="452.1" r="2.8"/><circle cx="142.3" cy="450.8" r="2.8"/><circle cx="142.3" cy="449.5" r="2.8"/><circle cx="142.3" cy="448.2" r="2.8"/><circle cx="142.3" cy="446.9" r="2.8"/><circle cx="142.3" cy="445.6" r="2.8"/><circle cx="142.3" cy="444.3" r="2.8"/><circle cx="142.3" cy="443" r="2.8"/><circle cx="142.3" cy="441.7" r="2.8"/><circle cx="142.3" cy="440.4" r="2.8" fill="#fafbfe"/><circle cx="142.3" cy="419.6" r="2.8"/><circle cx="142.3" cy="417.2" r="2.8"/><circle cx="142.3" cy="414.8" r="2.8"/><circle cx="142.3" cy="412.4" r="2.8"/><circle cx="142.3" cy="410" r="2.8"/><circle cx="142.3" cy="407.6" r="2.8"/><circle cx="142.3" cy="405.1" r="2.8"/><circle cx="142.3" cy="402.7" r="2.8"/><circle cx="150" cy="436" r="2.8" fill="#fff" stroke="#b9c8e6"/><circle cx="151.5" cy="434.3" r="2.8" fill="#fff" stroke="#b9c8e6"/><line x1="145.8" y1="439.5" x2="146.4" y2="436.7" stroke="#416db4" stroke-width="1.6"/><circle cx="148.4" cy="433.9" r="2.8"/><circle cx="162.2" cy="451.4" r="2.8"/><circle cx="162.2" cy="449.5" r="2.8"/><circle cx="162.2" cy="447.6" r="2.8"/><circle cx="162.2" cy="445.7" r="2.8"/><circle cx="162.2" cy="443.8" r="2.8"/><circle cx="162.2" cy="441.9" r="2.8"/><circle cx="162.2" cy="440" r="2.8"/><circle cx="162.2" cy="438.1" r="2.8"/><circle cx="162.2" cy="436.2" r="2.8" fill="#fafbfe"/><circle cx="162.2" cy="436" r="2.8" fill="#fff" stroke="#dde4f2"/><circle cx="162.2" cy="432.7" r="2.8" fill="#fff" stroke="#dde4f2"/><circle cx="162.2" cy="429.3" r="2.8" fill="#fff" stroke="#dde4f2"/><circle cx="162.2" cy="426" r="2.8" fill="#fff" stroke="#dde4f2"/><circle cx="162.2" cy="422.7" r="2.8" fill="#fff" stroke="#dde4f2"/><circle cx="162.2" cy="419.4" r="2.8" fill="#fff" stroke="#dde4f2"/><circle cx="162.2" cy="411" r="2.8"/><circle cx="162.2" cy="407.6" r="2.8"/><circle cx="162.2" cy="404.1" r="2.8"/><circle cx="162.2" cy="400.7" r="2.8"/><circle cx="162.2" cy="397.4" r="2.8"/><circle cx="162.2" cy="394.1" r="2.8"/><circle cx="162.2" cy="390.8" r="2.8"/><circle cx="162.2" cy="387.5" r="2.8"/><line x1="166.8" y1="431.1" x2="166.8" y2="427.4" stroke="#416db4" stroke-width="2.6"/><circle cx="200.4" cy="450.1" r="2.8"/><circle cx="200.4" cy="447.2" r="2.8"/><circle cx="200.4" cy="444.3" r="2.8"/><circle cx="200.4" cy="441.5" r="2.8"/><circle cx="200.4" cy="438.6" r="2.8"/><circle cx="200.4" cy="435.8" r="2.8"/><circle cx="200.4" cy="432.9" r="2.8"/><circle cx="200.4" cy="430" r="2.8"/><circle cx="200.4" cy="427.2" r="2.8" fill="#fafbfe"/><circle cx="200.4" cy="427.7" r="2.8" fill="#fff" stroke="#dde4f2"/><circle cx="200.4" cy="423.9" r="2.8" fill="#fff" stroke="#dde4f2"/><circle cx="200.4" cy="420.1" r="2.8" fill="#fff" stroke="#dde4f2"/><circle cx="200.4" cy="416.2" r="2.8" fill="#fff" stroke="#dde4f2"/><circle cx="200.4" cy="412.4" r="2.8" fill="#fff" stroke="#dde4f2"/><circle cx="200.4" cy="408.6" r="2.8" fill="#fff" stroke="#dde4f2"/><circle cx="200.4" cy="404.8" r="2.8" fill="#fff" stroke="#dde4f2"/><circle cx="200.4" cy="401" r="2.8" fill="#fff" stroke="#dde4f2"/><circle cx="200.4" cy="397.2" r="2.8" fill="#fff" stroke="#dde4f2"/><circle cx="200.4" cy="393" r="2.8"/><circle cx="200.4" cy="388.9" r="2.8"/><circle cx="206.1" cy="416.9" r="2.8"/><circle cx="173.2" cy="415.2" r="2.8"/><circle cx="200.4" cy="385.4" r="2.8"/><circle cx="200.4" cy="377.1" r="2.8"/><circle cx="200.4" cy="373.1" r="2.8"/><circle cx="200.4" cy="369.1" r="2.8"/><circle cx="200.4" cy="365.1" r="2.8"/><circle cx="200.4" cy="361.1" r="2.8"/><circle cx="200.4" cy="344.5" r="2.8" fill="#fff" stroke="#dde4f2"/><circle cx="200.4" cy="348.2" r="2.8" fill="#fff" stroke="#dde4f2"/><circle cx="200.4" cy="351.9" r="2.8" fill="#fff" stroke="#dde4f2"/><circle cx="200.4" cy="355.6" r="2.8" fill="#fff" stroke="#dde4f2"/><circle cx="200.4" cy="325.6" r="2.8"/><circle cx="200.4" cy="327.3" r="2.8"/><circle cx="200.4" cy="329" r="2.8"/><circle cx="200.4" cy="330.7" r="2.8"/><circle cx="200.4" cy="332.4" r="2.8"/><circle cx="200.4" cy="334.1" r="2.8"/><circle cx="200.4" cy="335.8" r="2.8"/><circle cx="200.4" cy="337.5" r="2.8"/><circle cx="200.4" cy="339.1" r="2.8"/><circle cx="200.4" cy="340.8" r="2.8" fill="#fafbfe"/><circle cx="185.9" cy="371.8" r="2.8"/><circle cx="167.2" cy="385" r="2.8"/><circle cx="162.2" cy="387.5" r="2.8"/><circle cx="162.2" cy="375" r="2.8" fill="#fff" stroke="#dde4f2"/><circle cx="162.2" cy="378.5" r="2.8" fill="#fff" stroke="#dde4f2"/><circle cx="162.2" cy="381.9" r="2.8" fill="#fff" stroke="#dde4f2"/><circle cx="162.2" cy="369.7" r="2.8"/><circle cx="162.2" cy="368.5" r="2.8"/><circle cx="162.2" cy="367.3" r="2.8"/><circle cx="162.2" cy="366.1" r="2.8"/><circle cx="162.2" cy="364.9" r="2.8"/><circle cx="162.2" cy="363.8" r="2.8"/><circle cx="162.2" cy="362.6" r="2.8"/><circle cx="162.2" cy="361.4" r="2.8"/><circle cx="162.2" cy="360.2" r="2.8"/><circle cx="162.2" cy="359.1" r="2.8"/><circle cx="162.2" cy="357.9" r="2.8" fill="#fafbfe"/><circle cx="142.3" cy="383.1" r="2.8"/><circle cx="142.3" cy="384.5" r="2.8"/><circle cx="142.3" cy="385.9" r="2.8"/><circle cx="142.3" cy="387.3" r="2.8"/><circle cx="142.3" cy="388.7" r="2.8"/><circle cx="142.3" cy="390.1" r="2.8" fill="#fafbfe"/></g>
<g class="d" fill="#416db4" stroke="#fff" stroke-width="0.55"><line x1="235.8" y1="454.5" x2="239.3" y2="454.4" stroke="#416db4" stroke-width="1.5" opacity="0.85"/><line x1="241.2" y1="454.3" x2="244.7" y2="454.2" stroke="#416db4" stroke-width="1.5" opacity="0.85"/><line x1="246.6" y1="454.1" x2="250.1" y2="454" stroke="#416db4" stroke-width="1.5" opacity="0.85"/><line x1="252" y1="453.9" x2="253.1" y2="453.8" stroke="#416db4" stroke-width="1.5" opacity="0.85"/><line x1="235.8" y1="454.2" x2="239.3" y2="453.8" stroke="#416db4" stroke-width="1.5" opacity="0.85"/><line x1="241.2" y1="453.6" x2="244.7" y2="453.2" stroke="#416db4" stroke-width="1.5" opacity="0.85"/><line x1="246.6" y1="453" x2="250.1" y2="452.6" stroke="#416db4" stroke-width="1.5" opacity="0.85"/><line x1="252" y1="452.4" x2="253.1" y2="452.3" stroke="#416db4" stroke-width="1.5" opacity="0.85"/><line x1="235.8" y1="453.9" x2="239.3" y2="453.2" stroke="#416db4" stroke-width="1.5" opacity="0.85"/><line x1="241.2" y1="452.8" x2="244.7" y2="452.2" stroke="#416db4" stroke-width="1.5" opacity="0.85"/><line x1="246.6" y1="451.8" x2="250.1" y2="451.1" stroke="#416db4" stroke-width="1.5" opacity="0.85"/><line x1="252" y1="450.8" x2="253.1" y2="450.5" stroke="#416db4" stroke-width="1.5" opacity="0.85"/><circle cx="253.1" cy="454.1" r="2.5"/><circle cx="252.5" cy="452.2" r="2.5"/><circle cx="252" cy="450.3" r="2.5"/><circle cx="257.5" cy="453.9" r="2.5"/><circle cx="256.9" cy="451.7" r="2.5"/><circle cx="256.4" cy="449.4" r="2.5"/><circle cx="261.9" cy="453.8" r="2.5"/><circle cx="261.4" cy="451.2" r="2.5"/><circle cx="260.8" cy="448.5" r="2.5"/><circle cx="266.3" cy="453.6" r="2.5"/><circle cx="265.8" cy="450.6" r="2.5"/><circle cx="265.3" cy="447.6" r="2.5"/><circle cx="270.8" cy="453.5" r="2.5"/><circle cx="270.4" cy="451.3" r="2.5"/><circle cx="270.1" cy="449" r="2.5"/><circle cx="269.7" cy="446.7" r="2.5"/><circle cx="275.2" cy="453.4" r="2.5"/><circle cx="274.8" cy="450.9" r="2.5"/><circle cx="274.5" cy="448.3" r="2.5"/><circle cx="274.1" cy="445.8" r="2.5"/><circle cx="279.6" cy="453.2" r="2.5"/><circle cx="279.3" cy="450.5" r="2.5"/><circle cx="278.9" cy="447.7" r="2.5"/><circle cx="278.5" cy="444.9" r="2.5"/><line x1="237.9" y1="451.8" x2="241.5" y2="450.1" stroke="#416db4" stroke-width="1.7" opacity="0.9"/><line x1="243.3" y1="449.3" x2="246.8" y2="447.7" stroke="#416db4" stroke-width="1.7" opacity="0.9"/><line x1="248.7" y1="446.8" x2="252.2" y2="445.2" stroke="#416db4" stroke-width="1.7" opacity="0.9"/><line x1="254.1" y1="444.4" x2="257.7" y2="442.7" stroke="#416db4" stroke-width="1.7" opacity="0.9"/><circle cx="258.5" cy="442.4" r="2.45"/><circle cx="263.2" cy="440.2" r="2.45"/><circle cx="268" cy="438" r="2.45"/><line x1="271.9" y1="439.9" x2="272.2" y2="437.3" stroke="#5f86c5" stroke-width="1.2"/><circle cx="272.7" cy="435.9" r="2.45"/><line x1="276.7" y1="438.8" x2="276.9" y2="436.3" stroke="#5f86c5" stroke-width="1.2"/><circle cx="277.5" cy="434.8" r="2.45"/><circle cx="277.5" cy="432.6" r="2.45"/><line x1="281.4" y1="436.7" x2="281.7" y2="434.1" stroke="#5f86c5" stroke-width="1.2"/><circle cx="282.2" cy="432.7" r="2.45"/><circle cx="282.2" cy="430.4" r="2.45"/><line x1="286.2" y1="434.5" x2="286.4" y2="431.9" stroke="#5f86c5" stroke-width="1.2"/><circle cx="287" cy="430.5" r="2.45"/><circle cx="287" cy="428.2" r="2.45"/><line x1="290.9" y1="432.3" x2="291.2" y2="429.8" stroke="#5f86c5" stroke-width="1.2"/><circle cx="291.7" cy="428.3" r="2.45"/><circle cx="291.7" cy="426" r="2.45"/><line x1="295.7" y1="430.2" x2="295.9" y2="427.6" stroke="#5f86c5" stroke-width="1.2"/><circle cx="296.5" cy="426.2" r="2.45"/><circle cx="296.5" cy="423.9" r="2.45"/><line x1="300.4" y1="428" x2="300.7" y2="425.4" stroke="#5f86c5" stroke-width="1.2"/><circle cx="301.2" cy="424" r="2.45"/><circle cx="301.2" cy="421.7" r="2.45"/><line x1="237.9" y1="451" x2="241.5" y2="449" stroke="#416db4" stroke-width="1.7" opacity="0.9"/><line x1="243.3" y1="448" x2="246.8" y2="446" stroke="#416db4" stroke-width="1.7" opacity="0.9"/><line x1="248.7" y1="444.9" x2="252.2" y2="442.9" stroke="#416db4" stroke-width="1.7" opacity="0.9"/><line x1="254.1" y1="441.8" x2="257.7" y2="439.8" stroke="#416db4" stroke-width="1.7" opacity="0.9"/><line x1="259.5" y1="438.8" x2="261.2" y2="437.8" stroke="#416db4" stroke-width="1.7" opacity="0.9"/><circle cx="263.3" cy="436.6" r="2.45"/><circle cx="268.1" cy="433.9" r="2.45"/><line x1="272" y1="435.2" x2="272.3" y2="432.6" stroke="#5f86c5" stroke-width="1.2"/><circle cx="272.8" cy="431.2" r="2.45"/><line x1="276.8" y1="433.6" x2="277" y2="431.1" stroke="#5f86c5" stroke-width="1.2"/><circle cx="277.6" cy="429.6" r="2.45"/><circle cx="277.6" cy="427.4" r="2.45"/><line x1="281.5" y1="430.9" x2="281.8" y2="428.4" stroke="#5f86c5" stroke-width="1.2"/><circle cx="282.3" cy="426.9" r="2.45"/><circle cx="282.3" cy="424.7" r="2.45"/><line x1="286.3" y1="428.2" x2="286.5" y2="425.7" stroke="#5f86c5" stroke-width="1.2"/><circle cx="287.1" cy="424.2" r="2.45"/><circle cx="287.1" cy="422" r="2.45"/><line x1="291" y1="425.5" x2="291.3" y2="423" stroke="#5f86c5" stroke-width="1.2"/><circle cx="291.8" cy="421.5" r="2.45"/><circle cx="291.8" cy="419.3" r="2.45"/><line x1="295.8" y1="422.8" x2="296" y2="420.3" stroke="#5f86c5" stroke-width="1.2"/><circle cx="296.6" cy="418.8" r="2.45"/><circle cx="296.6" cy="416.6" r="2.45"/><line x1="237.9" y1="450" x2="241.5" y2="447.4" stroke="#416db4" stroke-width="1.7" opacity="0.9"/><line x1="243.3" y1="446" x2="246.8" y2="443.5" stroke="#416db4" stroke-width="1.7" opacity="0.9"/><line x1="248.7" y1="442.1" x2="252.2" y2="439.5" stroke="#416db4" stroke-width="1.7" opacity="0.9"/><line x1="254.1" y1="438.1" x2="257.7" y2="435.6" stroke="#416db4" stroke-width="1.7" opacity="0.9"/><circle cx="259.5" cy="434.2" r="2.45"/><circle cx="264.3" cy="430.7" r="2.45"/><circle cx="269" cy="427.2" r="2.45"/><line x1="273" y1="427.8" x2="273.3" y2="425.2" stroke="#5f86c5" stroke-width="1.2"/><circle cx="273.8" cy="423.8" r="2.45"/><line x1="277.7" y1="425.5" x2="278" y2="422.9" stroke="#5f86c5" stroke-width="1.2"/><circle cx="278.5" cy="421.4" r="2.45"/><circle cx="278.5" cy="419.2" r="2.45"/><line x1="282.5" y1="422" x2="282.8" y2="419.4" stroke="#5f86c5" stroke-width="1.2"/><circle cx="283.3" cy="418" r="2.45"/><circle cx="283.3" cy="415.7" r="2.45"/><line x1="287.2" y1="418.5" x2="287.5" y2="415.9" stroke="#5f86c5" stroke-width="1.2"/><circle cx="288.1" cy="414.5" r="2.45"/><circle cx="288.1" cy="412.2" r="2.45"/><line x1="292" y1="415" x2="292.3" y2="412.5" stroke="#5f86c5" stroke-width="1.2"/><circle cx="292.8" cy="411" r="2.45"/><circle cx="292.8" cy="408.7" r="2.45"/><line x1="296.7" y1="411.6" x2="297" y2="409" stroke="#5f86c5" stroke-width="1.2"/><circle cx="297.6" cy="407.6" r="2.45"/><circle cx="297.6" cy="405.3" r="2.45"/><line x1="237.9" y1="449" x2="241.5" y2="445.9" stroke="#416db4" stroke-width="1.7" opacity="0.9"/><line x1="243.3" y1="444.2" x2="246.8" y2="441.1" stroke="#416db4" stroke-width="1.7" opacity="0.9"/><line x1="248.7" y1="439.5" x2="252.2" y2="436.4" stroke="#416db4" stroke-width="1.7" opacity="0.9"/><line x1="254.1" y1="434.7" x2="257.7" y2="431.6" stroke="#416db4" stroke-width="1.7" opacity="0.9"/><line x1="259.5" y1="429.9" x2="261.2" y2="428.5" stroke="#416db4" stroke-width="1.7" opacity="0.9"/><circle cx="263.9" cy="426.1" r="2.45"/><circle cx="268.6" cy="421.9" r="2.45"/><line x1="272.6" y1="421.7" x2="272.8" y2="419.1" stroke="#5f86c5" stroke-width="1.2"/><circle cx="273.4" cy="417.7" r="2.45"/><line x1="277.3" y1="418.7" x2="277.6" y2="416.1" stroke="#5f86c5" stroke-width="1.2"/><circle cx="278.1" cy="414.7" r="2.45"/><circle cx="278.1" cy="412.4" r="2.45"/><line x1="282.1" y1="414.5" x2="282.3" y2="411.9" stroke="#5f86c5" stroke-width="1.2"/><circle cx="282.9" cy="410.5" r="2.45"/><circle cx="282.9" cy="408.2" r="2.45"/><line x1="286.8" y1="410.3" x2="287.1" y2="407.7" stroke="#5f86c5" stroke-width="1.2"/><circle cx="287.6" cy="406.3" r="2.45"/><circle cx="287.6" cy="404" r="2.45"/><line x1="291.6" y1="406.1" x2="291.8" y2="403.5" stroke="#5f86c5" stroke-width="1.2"/><circle cx="292.4" cy="402.1" r="2.45"/><circle cx="292.4" cy="399.8" r="2.45"/><circle cx="276" cy="453.3" r="2.8"/><circle cx="275.2" cy="449.9" r="2.8"/><circle cx="274.4" cy="446.4" r="2.8"/><circle cx="282.1" cy="449.9" r="2.8"/><circle cx="281.8" cy="446" r="2.8"/><circle cx="281.3" cy="442.2" r="2.8"/><circle cx="295.1" cy="451.9" r="2.8"/><circle cx="293.5" cy="448.5" r="2.8"/><circle cx="292.8" cy="445" r="2.8"/><circle cx="292" cy="441.5" r="2.8"/><circle cx="298.9" cy="447.1" r="2.8"/><circle cx="299.3" cy="442.9" r="2.8"/><circle cx="299.6" cy="438.8" r="2.8"/><circle cx="273.7" cy="397.2" r="2.8" fill="#cfdaf0"/><circle cx="263.7" cy="410.4" r="2.8" fill="#cfdaf0"/><circle cx="258.4" cy="416.6" r="2.8" fill="#cfdaf0"/><circle cx="231.7" cy="454.7" r="2.8"/><circle cx="234.7" cy="451.2" r="2.8"/><circle cx="238.8" cy="447.4" r="2.8"/><circle cx="242" cy="443.6" r="2.8"/><circle cx="245.4" cy="440.2" r="2.8"/><circle cx="248.8" cy="436.7" r="2.8"/><circle cx="252.3" cy="433" r="2.8"/><circle cx="256.1" cy="429.8" r="2.8"/><circle cx="259.6" cy="426.3" r="2.8"/><circle cx="263" cy="422.1" r="2.8"/><circle cx="266.8" cy="418.7" r="2.8"/><circle cx="270.3" cy="415.2" r="2.8"/><circle cx="274.1" cy="411" r="2.8"/><circle cx="277.8" cy="407.2" r="2.8"/><circle cx="281.6" cy="403.4" r="2.8"/><circle cx="285.1" cy="399.3" r="2.8"/><circle cx="288.2" cy="395.8" r="2.8"/><circle cx="297.3" cy="395.8" r="2.8"/><circle cx="296.6" cy="392.3" r="2.8"/><circle cx="295.1" cy="388.9" r="2.8"/><circle cx="279" cy="390.1" r="2.8"/><circle cx="279" cy="391.1" r="2.8"/><circle cx="279" cy="392.1" r="2.8"/><circle cx="279" cy="393.2" r="2.8"/><circle cx="279" cy="394.2" r="2.8" fill="#fafbfe"/><circle cx="311.7" cy="427.3" r="2.3"/><circle cx="312.3" cy="427.1" r="2.3"/><circle cx="312.9" cy="426.9" r="2.3"/><circle cx="313.5" cy="426.8" r="2.3"/><circle cx="314.1" cy="426.6" r="2.3"/><circle cx="314.6" cy="426.4" r="2.3"/><circle cx="315.2" cy="426.3" r="2.3"/><circle cx="315.8" cy="426.1" r="2.3"/><circle cx="316.4" cy="425.9" r="2.3"/><circle cx="317" cy="425.7" r="2.3"/><circle cx="317.5" cy="425.6" r="2.3"/><circle cx="318.1" cy="425.4" r="2.3"/><circle cx="318.7" cy="425.2" r="2.3"/><circle cx="319.3" cy="425.1" r="2.3"/><circle cx="319.9" cy="424.9" r="2.3"/><circle cx="320.5" cy="424.7" r="2.3"/><circle cx="321" cy="424.6" r="2.3"/><circle cx="321.6" cy="424.4" r="2.3"/><circle cx="322.2" cy="424.2" r="2.3"/><circle cx="322.8" cy="424" r="2.3"/><circle cx="323.4" cy="423.9" r="2.3"/><circle cx="323.9" cy="423.7" r="2.3"/><circle cx="324.5" cy="423.5" r="2.3"/><circle cx="325.1" cy="423.4" r="2.3"/><circle cx="325.7" cy="423.2" r="2.3"/><circle cx="326.3" cy="423" r="2.3"/><circle cx="326.9" cy="422.9" r="2.3"/><circle cx="327.4" cy="422.7" r="2.3"/><circle cx="328" cy="422.5" r="2.3"/><circle cx="328.6" cy="422.4" r="2.3"/><circle cx="329.2" cy="422.2" r="2.3" fill="#fafbfe"/><circle cx="313.9" cy="418.8" r="2.3"/><circle cx="314.8" cy="418.8" r="2.3"/><circle cx="315.8" cy="418.8" r="2.3"/><circle cx="316.7" cy="418.8" r="2.3"/><circle cx="317.6" cy="418.8" r="2.3"/><circle cx="318.5" cy="418.7" r="2.3"/><circle cx="319.4" cy="418.7" r="2.3"/><circle cx="320.4" cy="418.7" r="2.3"/><circle cx="321.3" cy="418.7" r="2.3"/><circle cx="322.2" cy="418.7" r="2.3"/><circle cx="323.1" cy="418.6" r="2.3"/><circle cx="324" cy="418.6" r="2.3"/><circle cx="325" cy="418.6" r="2.3"/><circle cx="325.9" cy="418.6" r="2.3"/><circle cx="326.8" cy="418.6" r="2.3"/><circle cx="327.7" cy="418.5" r="2.3" fill="#fafbfe"/><circle cx="335" cy="416.4" r="2.3"/><circle cx="335.8" cy="416.3" r="2.3"/><circle cx="336.6" cy="416.1" r="2.3"/><circle cx="337.5" cy="416" r="2.3"/><circle cx="338.3" cy="415.9" r="2.3"/><circle cx="339.1" cy="415.8" r="2.3"/><circle cx="339.9" cy="415.7" r="2.3"/><circle cx="340.8" cy="415.6" r="2.3"/><circle cx="341.6" cy="415.5" r="2.3"/><circle cx="342.4" cy="415.4" r="2.3"/><circle cx="343.2" cy="415.3" r="2.3"/><circle cx="344" cy="415.2" r="2.3"/><circle cx="344.9" cy="415.1" r="2.3"/><circle cx="345.7" cy="415" r="2.3"/><circle cx="346.5" cy="414.9" r="2.3"/><circle cx="347.3" cy="414.8" r="2.3"/><circle cx="348.2" cy="414.6" r="2.3"/><circle cx="349" cy="414.5" r="2.3"/><circle cx="349.8" cy="414.4" r="2.3"/><circle cx="350.6" cy="414.3" r="2.3"/><circle cx="351.4" cy="414.2" r="2.3"/><circle cx="352.3" cy="414.1" r="2.3"/><circle cx="353.1" cy="414" r="2.3"/><circle cx="353.9" cy="413.9" r="2.3" fill="#fafbfe"/><circle cx="353.9" cy="413.9" r="2.3"/><circle cx="354.5" cy="413.7" r="2.3"/><circle cx="355.1" cy="413.6" r="2.3"/><circle cx="355.7" cy="413.4" r="2.3"/><circle cx="356.3" cy="413.3" r="2.3"/><circle cx="356.9" cy="413.1" r="2.3"/><circle cx="357.5" cy="412.9" r="2.3"/><circle cx="358.2" cy="412.8" r="2.3"/><circle cx="358.8" cy="412.6" r="2.3"/><circle cx="359.4" cy="412.5" r="2.3"/><circle cx="360" cy="412.3" r="2.3"/><circle cx="360.6" cy="412.2" r="2.3"/><circle cx="361.2" cy="412" r="2.3"/><circle cx="361.8" cy="411.8" r="2.3"/><circle cx="362.3" cy="411.6" r="2.3"/><circle cx="362.9" cy="411.3" r="2.3"/><circle cx="363.5" cy="411.1" r="2.3"/><circle cx="364.1" cy="410.9" r="2.3"/><circle cx="364.7" cy="410.7" r="2.3"/><circle cx="365.3" cy="410.5" r="2.3"/><circle cx="365.8" cy="410.3" r="2.3"/><circle cx="366.4" cy="410" r="2.3"/><circle cx="367" cy="409.8" r="2.3" fill="#fafbfe"/><circle cx="367" cy="409.8" r="2.8" fill="#fff" stroke="#dde4f2"/><circle cx="367.3" cy="406.9" r="2.8" fill="#fff" stroke="#dde4f2"/><circle cx="367.7" cy="404" r="2.8" fill="#fff" stroke="#dde4f2"/><circle cx="368" cy="401.1" r="2.8" fill="#fff" stroke="#dde4f2"/><circle cx="368" cy="401.1" r="2.8" fill="#fff" stroke="#dde4f2"/><circle cx="367.2" cy="398.2" r="2.8" fill="#fff" stroke="#dde4f2"/><circle cx="366.4" cy="395.3" r="2.8" fill="#fff" stroke="#dde4f2"/><circle cx="365.5" cy="392.4" r="2.8" fill="#fff" stroke="#dde4f2"/><circle cx="326.7" cy="410.4" r="2.8"/><circle cx="326.7" cy="406.9" r="2.8"/><circle cx="326.7" cy="403.4" r="2.8"/><circle cx="326.7" cy="396.8" r="2.8"/><line x1="328.5" y1="390.3" x2="329.4" y2="387.8" stroke="#416db4" stroke-width="2.2"/><circle cx="314.4" cy="400" r="2.8"/><circle cx="314.4" cy="396.5" r="2.8"/><circle cx="315.2" cy="393" r="2.8"/><circle cx="306.8" cy="418.7" r="2.8"/><circle cx="306.8" cy="415.2" r="2.8"/><circle cx="306.8" cy="411.3" r="2.8"/><line x1="307.6" y1="408.3" x2="308.6" y2="405.5" stroke="#416db4" stroke-width="2.2"/><circle cx="306" cy="398.6" r="2.8"/><circle cx="306" cy="394.4" r="2.8"/><circle cx="365.6" cy="392.3" r="2.8"/><circle cx="365.6" cy="388.9" r="2.8"/><circle cx="367.1" cy="347.3" r="2.8" fill="#fff" stroke="#dde4f2"/><circle cx="366.4" cy="350.1" r="2.8" fill="#fff" stroke="#dde4f2"/><circle cx="365.6" cy="352.8" r="2.8" fill="#fff" stroke="#dde4f2"/><circle cx="364.9" cy="355.6" r="2.8" fill="#fff" stroke="#dde4f2"/><circle cx="364.1" cy="358.4" r="2.8" fill="#fff" stroke="#dde4f2"/><circle cx="363.3" cy="361.1" r="2.8" fill="#fff" stroke="#dde4f2"/><circle cx="362.6" cy="363.9" r="2.8" fill="#fff" stroke="#dde4f2"/><circle cx="361.8" cy="366.7" r="2.8" fill="#fff" stroke="#dde4f2"/><circle cx="366.4" cy="338.8" r="2.8"/><circle cx="366.4" cy="340.2" r="2.8"/><circle cx="366.4" cy="341.5" r="2.8"/><circle cx="366.4" cy="342.9" r="2.8"/><circle cx="366.4" cy="344.3" r="2.8"/><circle cx="366.4" cy="345.7" r="2.8" fill="#fafbfe"/><circle cx="365.6" cy="385.4" r="2.8"/><circle cx="365.6" cy="377.8" r="2.8"/><circle cx="366.4" cy="367.4" r="2.8"/><circle cx="349.3" cy="343.1" r="2.8" fill="#fff" stroke="#dde4f2"/><circle cx="348.5" cy="346.1" r="2.8" fill="#fff" stroke="#dde4f2"/><circle cx="347.8" cy="349" r="2.8" fill="#fff" stroke="#dde4f2"/><circle cx="347.1" cy="352" r="2.8" fill="#fff" stroke="#dde4f2"/><circle cx="346.4" cy="354.9" r="2.8" fill="#fff" stroke="#dde4f2"/><circle cx="345.6" cy="357.9" r="2.8" fill="#fff" stroke="#dde4f2"/><circle cx="344.9" cy="360.8" r="2.8" fill="#fff" stroke="#dde4f2"/><circle cx="344.2" cy="363.7" r="2.8" fill="#fff" stroke="#dde4f2"/><circle cx="343.5" cy="366.7" r="2.8" fill="#fff" stroke="#dde4f2"/><circle cx="348.8" cy="325.6" r="2.8"/><circle cx="348.8" cy="327" r="2.8"/><circle cx="348.8" cy="328.5" r="2.8"/><circle cx="348.8" cy="329.9" r="2.8"/><circle cx="348.8" cy="331.4" r="2.8"/><circle cx="348.8" cy="332.8" r="2.8"/><circle cx="348.8" cy="334.2" r="2.8"/><circle cx="348.8" cy="335.7" r="2.8"/><circle cx="348.8" cy="337.1" r="2.8"/><circle cx="348.8" cy="338.6" r="2.8"/><circle cx="348.8" cy="340" r="2.8"/><circle cx="348.8" cy="341.4" r="2.8"/><circle cx="348.8" cy="342.9" r="2.8"/><circle cx="348.8" cy="344.3" r="2.8" fill="#fafbfe"/><circle cx="348.1" cy="377.8" r="2.8"/><circle cx="348.1" cy="374.3" r="2.8"/><circle cx="348.1" cy="370.6" r="2.8"/><line x1="349.3" y1="363.9" x2="350.2" y2="360.9" stroke="#416db4" stroke-width="2.4"/><circle cx="336.3" cy="343.1" r="2.8" fill="#fff" stroke="#dde4f2"/><circle cx="335.8" cy="346.1" r="2.8" fill="#fff" stroke="#dde4f2"/><circle cx="335.2" cy="349" r="2.8" fill="#fff" stroke="#dde4f2"/><circle cx="334.7" cy="352" r="2.8" fill="#fff" stroke="#dde4f2"/><circle cx="334.1" cy="354.9" r="2.8" fill="#fff" stroke="#dde4f2"/><circle cx="333.6" cy="357.9" r="2.8" fill="#fff" stroke="#dde4f2"/><circle cx="333.1" cy="360.8" r="2.8" fill="#fff" stroke="#dde4f2"/><circle cx="332.5" cy="363.7" r="2.8" fill="#fff" stroke="#dde4f2"/><circle cx="332" cy="366.7" r="2.8" fill="#fff" stroke="#dde4f2"/><circle cx="336.1" cy="329.1" r="2.8"/><circle cx="336.1" cy="330.4" r="2.8"/><circle cx="336.1" cy="331.8" r="2.8"/><circle cx="336.1" cy="333.2" r="2.8"/><circle cx="336.1" cy="334.6" r="2.8"/><circle cx="336.1" cy="336" r="2.8"/><circle cx="336.1" cy="337.4" r="2.8"/><circle cx="336.1" cy="338.8" r="2.8"/><circle cx="336.1" cy="340.2" r="2.8"/><circle cx="336.1" cy="341.5" r="2.8"/><circle cx="336.1" cy="342.9" r="2.8"/><circle cx="336.1" cy="344.3" r="2.8" fill="#fafbfe"/><circle cx="335.4" cy="377.1" r="2.8"/><circle cx="335.4" cy="373.6" r="2.8"/><circle cx="335.4" cy="370.2" r="2.8"/><line x1="335.8" y1="363.9" x2="336.9" y2="360.9" stroke="#416db4" stroke-width="2.4"/><circle cx="324.8" cy="339" r="2.8" fill="#fff" stroke="#dde4f2"/><circle cx="324.3" cy="342" r="2.8" fill="#fff" stroke="#dde4f2"/><circle cx="323.8" cy="345" r="2.8" fill="#fff" stroke="#dde4f2"/><circle cx="323.3" cy="348" r="2.8" fill="#fff" stroke="#dde4f2"/><circle cx="322.8" cy="351" r="2.8" fill="#fff" stroke="#dde4f2"/><circle cx="322.3" cy="354" r="2.8" fill="#fff" stroke="#dde4f2"/><circle cx="321.8" cy="357" r="2.8" fill="#fff" stroke="#dde4f2"/><circle cx="324.4" cy="325.6" r="2.8"/><circle cx="324.4" cy="327.1" r="2.8"/><circle cx="324.4" cy="328.5" r="2.8"/><circle cx="324.4" cy="330" r="2.8"/><circle cx="324.4" cy="331.4" r="2.8"/><circle cx="324.4" cy="332.9" r="2.8"/><circle cx="324.4" cy="334.3" r="2.8"/><circle cx="324.4" cy="335.8" r="2.8"/><circle cx="324.4" cy="337.2" r="2.8"/><circle cx="324.4" cy="338.7" r="2.8"/><circle cx="324.4" cy="340.2" r="2.8" fill="#fafbfe"/><circle cx="324.1" cy="372.2" r="2.8"/><circle cx="324.1" cy="367.4" r="2.8"/><circle cx="321.3" cy="361.1" r="2.8"/><line x1="325.4" y1="360.5" x2="326.4" y2="357.7" stroke="#416db4" stroke-width="2.2"/><circle cx="315.2" cy="363" r="2.8"/><circle cx="315.2" cy="364.5" r="2.8"/><circle cx="315.2" cy="366" r="2.8"/><circle cx="315.2" cy="367.5" r="2.8"/><circle cx="315.2" cy="369" r="2.8"/><circle cx="315.2" cy="370.5" r="2.8"/><circle cx="315.2" cy="371.9" r="2.8"/><circle cx="315.2" cy="373.4" r="2.8" fill="#fafbfe"/><circle cx="311.4" cy="371.8" r="2.8"/><circle cx="306.5" cy="365.8" r="2.8"/><circle cx="306.5" cy="367.3" r="2.8"/><circle cx="306.5" cy="368.8" r="2.8"/><circle cx="306.5" cy="370.3" r="2.8"/><circle cx="306.5" cy="371.8" r="2.8"/><circle cx="306.5" cy="373.3" r="2.8"/><circle cx="306.5" cy="374.8" r="2.8" fill="#fafbfe"/><circle cx="298.1" cy="385.4" r="2.8"/><circle cx="297.7" cy="363" r="2.8"/><circle cx="297.7" cy="364.3" r="2.8"/><circle cx="297.7" cy="365.6" r="2.8"/><circle cx="297.7" cy="366.9" r="2.8"/><circle cx="297.7" cy="368.2" r="2.8"/><circle cx="297.7" cy="369.5" r="2.8"/><circle cx="297.7" cy="370.8" r="2.8"/><circle cx="297.7" cy="372.1" r="2.8"/><circle cx="297.7" cy="373.4" r="2.8" fill="#fafbfe"/><circle cx="290.5" cy="385.2" r="2.8"/><circle cx="290.5" cy="386.8" r="2.8"/><circle cx="290.5" cy="388.4" r="2.8"/><circle cx="290.5" cy="390.1" r="2.8" fill="#fafbfe"/><circle cx="283.3" cy="383.1" r="2.8"/><circle cx="283.3" cy="384.5" r="2.8"/><circle cx="283.3" cy="385.9" r="2.8"/><circle cx="283.3" cy="387.3" r="2.8"/><circle cx="283.3" cy="388.7" r="2.8"/><circle cx="283.3" cy="390.1" r="2.8" fill="#fafbfe"/></g>
<g class="h"><line x1="394.25" y1="460.55" x2="394.25" y2="338.55" stroke-width="1.0" stroke="#7d9cd5"/><line x1="395" y1="460.55" x2="395" y2="457.75" stroke-width="1.0" stroke="#9db5e0"/><line x1="396" y1="460.55" x2="396" y2="457.35" stroke-width="1.0" stroke="#9db5e0"/><line x1="397" y1="460.55" x2="397" y2="458.35" stroke-width="1.0" stroke="#9db5e0"/><line x1="398" y1="460.55" x2="398" y2="457.95" stroke-width="1.0" stroke="#9db5e0"/><line x1="399" y1="460.55" x2="399" y2="457.75" stroke-width="1.0" stroke="#9db5e0"/><line x1="400" y1="460.55" x2="400" y2="458.35" stroke-width="1.0" stroke="#9db5e0"/><line x1="401" y1="460.55" x2="401" y2="458.15" stroke-width="1.0" stroke="#9db5e0"/><line x1="402" y1="460.55" x2="402" y2="458.95" stroke-width="1.0" stroke="#9db5e0"/><line x1="403" y1="460.55" x2="403" y2="459.35" stroke-width="1.0" stroke="#9db5e0"/><line x1="404" y1="460.55" x2="404" y2="459.55" stroke-width="1.0" stroke="#9db5e0"/><line x1="405" y1="460.55" x2="405" y2="458.95" stroke-width="1.0" stroke="#9db5e0"/><line x1="406" y1="460.55" x2="406" y2="458.55" stroke-width="1.0" stroke="#9db5e0"/><line x1="407" y1="460.55" x2="407" y2="458.75" stroke-width="1.0" stroke="#9db5e0"/><line x1="408" y1="460.55" x2="408" y2="458.35" stroke-width="1.0" stroke="#9db5e0"/><line x1="409" y1="460.55" x2="409" y2="458.95" stroke-width="1.0" stroke="#9db5e0"/><line x1="410" y1="460.55" x2="410" y2="458.15" stroke-width="1.0" stroke="#9db5e0"/><line x1="411" y1="460.55" x2="411" y2="458.35" stroke-width="1.0" stroke="#9db5e0"/><line x1="412" y1="460.55" x2="412" y2="459.35" stroke-width="1.0" stroke="#9db5e0"/><line x1="413" y1="460.55" x2="413" y2="459.55" stroke-width="1.0" stroke="#9db5e0"/><line x1="428" y1="460.55" x2="428" y2="459.65" stroke-width="30" stroke="#b5c6e6"/></g>
<path class="s" d="M62.4 8.2V151.6H213.1"/><path class="k" d="M62.4 145.3h-5.9M62.4 120.6h-5.9M62.4 96h-5.9M62.4 71.4h-5.9M62.4 46.7h-5.9M62.4 22.1h-5.9M69 151.6v5.9M120.8 151.6v5.9M172.6 151.6v5.9"/>
<path class="s" d="M225.2 8.2V151.6H376"/><path class="k" d="M225.2 145.3h-5.9M225.2 120.6h-5.9M225.2 96h-5.9M225.2 71.4h-5.9M225.2 46.7h-5.9M225.2 22.1h-5.9M231.5 151.6v5.9M285.5 151.6v5.9M339.5 151.6v5.9"/>
<path class="s" d="M387.6 8.2V151.6H538.6"/><path class="k" d="M387.6 145.3h-5.9M387.6 120.6h-5.9M387.6 96h-5.9M387.6 71.4h-5.9M387.6 46.7h-5.9M387.6 22.1h-5.9M394.5 151.6v5.9M452 151.6v5.9M509.5 151.6v5.9"/>
<path class="s" d="M62.4 163V306.4H213.1"/><path class="k" d="M62.4 300.1h-5.9M62.4 274.4h-5.9M62.4 248.7h-5.9M62.4 223h-5.9M62.4 197.3h-5.9M62.4 171.6h-5.9M69 306.4v5.9M120.8 306.4v5.9M172.6 306.4v5.9"/>
<path class="s" d="M225.2 163V306.4H376"/><path class="k" d="M225.2 300.1h-5.9M225.2 274.4h-5.9M225.2 248.7h-5.9M225.2 223h-5.9M225.2 197.3h-5.9M225.2 171.6h-5.9M231.5 306.4v5.9M285.5 306.4v5.9M339.5 306.4v5.9"/>
<path class="s" d="M387.6 163V306.4H538.6"/><path class="k" d="M387.6 300.1h-5.9M387.6 274.4h-5.9M387.6 248.7h-5.9M387.6 223h-5.9M387.6 197.3h-5.9M387.6 171.6h-5.9M394.5 306.4v5.9M452 306.4v5.9M509.5 306.4v5.9"/>
<path class="s" d="M62.4 317.2V461.1H213.1"/><path class="k" d="M62.4 454.7h-5.9M62.4 427.3h-5.9M62.4 399.9h-5.9M62.4 372.5h-5.9M62.4 345.1h-5.9M69 461.1v5.9M120.8 461.1v5.9M172.6 461.1v5.9"/>
<path class="s" d="M225.2 317.2V461.1H376"/><path class="k" d="M225.2 454.7h-5.9M225.2 427.3h-5.9M225.2 399.9h-5.9M225.2 372.5h-5.9M225.2 345.1h-5.9M231.5 461.1v5.9M285.5 461.1v5.9M339.5 461.1v5.9"/>
<path class="s" d="M387.6 317.2V461.1H538.6"/><path class="k" d="M387.6 454.7h-5.9M387.6 427.3h-5.9M387.6 399.9h-5.9M387.6 372.5h-5.9M387.6 345.1h-5.9M394.5 461.1v5.9M452 461.1v5.9M509.5 461.1v5.9"/>
<text class="t" x="49" y="148.7" text-anchor="end">0.00</text><text class="t" x="49" y="124" text-anchor="end">0.05</text><text class="t" x="49" y="99.4" text-anchor="end">0.10</text><text class="t" x="49" y="74.8" text-anchor="end">0.15</text><text class="t" x="49" y="50.1" text-anchor="end">0.20</text><text class="t" x="49" y="25.5" text-anchor="end">0.25</text>
<text class="l" style="font-size:16.1px" transform="translate(23.1 83.6) rotate(-90)" text-anchor="middle">P402</text>
<text class="t" x="49" y="303.5" text-anchor="end">0.00</text><text class="t" x="49" y="277.8" text-anchor="end">0.05</text><text class="t" x="49" y="252.1" text-anchor="end">0.10</text><text class="t" x="49" y="226.4" text-anchor="end">0.15</text><text class="t" x="49" y="200.7" text-anchor="end">0.20</text><text class="t" x="49" y="175" text-anchor="end">0.25</text>
<text class="l" style="font-size:16.1px" transform="translate(23.1 236) rotate(-90)" text-anchor="middle">AIT504</text>
<text class="t" x="49" y="458.1" text-anchor="end">0.00</text><text class="t" x="49" y="430.7" text-anchor="end">0.05</text><text class="t" x="49" y="403.3" text-anchor="end">0.10</text><text class="t" x="49" y="375.9" text-anchor="end">0.15</text><text class="t" x="49" y="348.5" text-anchor="end">0.20</text>
<text class="l" style="font-size:16.1px" transform="translate(23.1 392.4) rotate(-90)" text-anchor="middle">FIT504</text>
<text class="t" x="67" y="477.6" text-anchor="middle">0.0</text><text class="t" x="118.8" y="477.6" text-anchor="middle">0.1</text><text class="t" x="170.6" y="477.6" text-anchor="middle">0.2</text>
<text class="l" x="136.9" y="493.6" text-anchor="middle">P402</text>
<text class="t" x="229.5" y="477.6" text-anchor="middle">0.0</text><text class="t" x="283.5" y="477.6" text-anchor="middle">0.1</text><text class="t" x="337.5" y="477.6" text-anchor="middle">0.2</text>
<text class="l" x="300.7" y="493.6" text-anchor="middle">AIT504</text>
<text class="t" x="392.5" y="477.6" text-anchor="middle">0.0</text><text class="t" x="450" y="477.6" text-anchor="middle">0.1</text><text class="t" x="507.5" y="477.6" text-anchor="middle">0.2</text>
<text class="l" x="463.7" y="493.6" text-anchor="middle">FIT504</text>
</svg>
</body></html>
